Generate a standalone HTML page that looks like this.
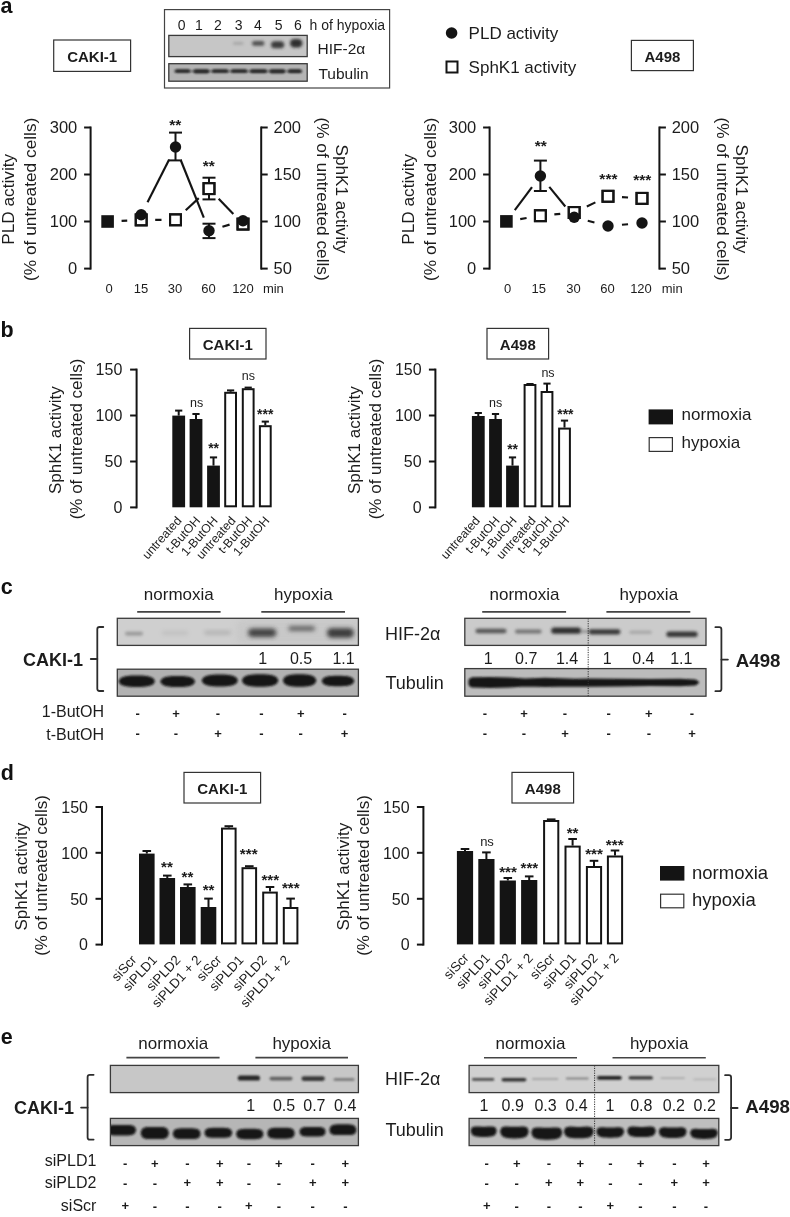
<!DOCTYPE html>
<html lang="en"><head><meta charset="utf-8"><title>Figure</title>
<style>
html,body{margin:0;padding:0;background:#fff;}
body{width:790px;height:1217px;overflow:hidden;}
svg{display:block;font-family:"Liberation Sans", sans-serif;}
svg text{font-family:"Liberation Sans", sans-serif;}
</style></head><body>
<svg width="790" height="1217" viewBox="0 0 790 1217">
<defs><filter id="b0_9" x="-20%" y="-150%" width="140%" height="400%"><feGaussianBlur stdDeviation="0.9"/></filter><filter id="b1" x="-20%" y="-150%" width="140%" height="400%"><feGaussianBlur stdDeviation="1"/></filter><filter id="b1_0" x="-20%" y="-150%" width="140%" height="400%"><feGaussianBlur stdDeviation="1.0"/></filter><filter id="b1_1" x="-20%" y="-150%" width="140%" height="400%"><feGaussianBlur stdDeviation="1.1"/></filter><filter id="b1_2" x="-20%" y="-150%" width="140%" height="400%"><feGaussianBlur stdDeviation="1.2"/></filter><filter id="b1_3" x="-20%" y="-150%" width="140%" height="400%"><feGaussianBlur stdDeviation="1.3"/></filter><filter id="b1_4" x="-20%" y="-150%" width="140%" height="400%"><feGaussianBlur stdDeviation="1.4"/></filter><filter id="b1_5" x="-20%" y="-150%" width="140%" height="400%"><feGaussianBlur stdDeviation="1.5"/></filter><filter id="b1_6" x="-20%" y="-150%" width="140%" height="400%"><feGaussianBlur stdDeviation="1.6"/></filter><filter id="b1_7" x="-20%" y="-150%" width="140%" height="400%"><feGaussianBlur stdDeviation="1.7"/></filter><filter id="b1_8" x="-20%" y="-150%" width="140%" height="400%"><feGaussianBlur stdDeviation="1.8"/></filter><filter id="b2" x="-20%" y="-150%" width="140%" height="400%"><feGaussianBlur stdDeviation="2"/></filter><filter id="b2_2" x="-20%" y="-150%" width="140%" height="400%"><feGaussianBlur stdDeviation="2.2"/></filter><filter id="b3" x="-20%" y="-150%" width="140%" height="400%"><feGaussianBlur stdDeviation="3"/></filter></defs>
<rect x="0" y="0" width="790" height="1217" fill="#ffffff"/>
<text x="0.50" y="12.80" font-size="21.5" text-anchor="start" font-weight="bold" fill="#111">a</text>
<rect x="53.70" y="40.00" width="76.90" height="31.40" fill="#fff" stroke="#333" stroke-width="1.2"/>
<text x="92.15" y="62.00" font-size="15" text-anchor="middle" font-weight="bold" fill="#1c1c1c">CAKI-1</text>
<rect x="631.40" y="40.40" width="62.00" height="30.20" fill="#fff" stroke="#333" stroke-width="1.2"/>
<text x="662.40" y="61.70" font-size="15" text-anchor="middle" font-weight="bold" fill="#1c1c1c">A498</text>
<rect x="164.50" y="9.60" width="225.10" height="78.40" fill="#fff" stroke="#444" stroke-width="1.2"/>
<text x="181.60" y="30.20" font-size="14" text-anchor="middle" fill="#1c1c1c">0</text>
<text x="199.00" y="30.20" font-size="14" text-anchor="middle" fill="#1c1c1c">1</text>
<text x="217.90" y="30.20" font-size="14" text-anchor="middle" fill="#1c1c1c">2</text>
<text x="238.60" y="30.20" font-size="14" text-anchor="middle" fill="#1c1c1c">3</text>
<text x="258.00" y="30.20" font-size="14" text-anchor="middle" fill="#1c1c1c">4</text>
<text x="278.60" y="30.20" font-size="14" text-anchor="middle" fill="#1c1c1c">5</text>
<text x="297.90" y="30.20" font-size="14" text-anchor="middle" fill="#1c1c1c">6</text>
<text x="309.60" y="30.20" font-size="14" text-anchor="start" fill="#1c1c1c">h of hypoxia</text>
<text x="317.60" y="53.60" font-size="15.5" text-anchor="start" fill="#1c1c1c">HIF-2α</text>
<text x="318.40" y="78.60" font-size="15.5" text-anchor="start" fill="#1c1c1c">Tubulin</text>
<clipPath id="cp1"><rect x="168.80" y="35.40" width="138.40" height="21.20"/></clipPath>
<rect x="168.80" y="35.40" width="138.40" height="21.20" fill="#c6c6c6"/>
<g clip-path="url(#cp1)">
<rect x="233.00" y="42.20" width="10.40" height="2.40" rx="1.20" ry="1.20" fill="#777" opacity="0.5" filter="url(#b1_4)"/>
<rect x="252.00" y="41.10" width="12.40" height="4.60" rx="2.30" ry="2.30" fill="#424242" opacity="0.9" filter="url(#b1_5)"/>
<rect x="271.00" y="41.30" width="13.20" height="7.00" rx="3.50" ry="3.50" fill="#363636" opacity="0.95" filter="url(#b1_6)"/>
<rect x="290.00" y="39.10" width="12.40" height="8.40" rx="4.20" ry="4.20" fill="#2c2c2c" opacity="0.97" filter="url(#b1_6)"/>
</g>
<rect x="168.80" y="35.40" width="138.40" height="21.20" fill="none" stroke="#3a3a3a" stroke-width="1.3"/>
<clipPath id="cp2"><rect x="168.80" y="63.70" width="138.40" height="17.50"/></clipPath>
<rect x="168.80" y="63.70" width="138.40" height="17.50" fill="#b4b4b4"/>
<g clip-path="url(#cp2)">
<rect x="175.00" y="69.40" width="15.20" height="3.40" rx="1.70" ry="1.70" fill="#1c1c1c" opacity="1" filter="url(#b0_9)"/>
<rect x="193.50" y="69.60" width="15.70" height="3.60" rx="1.80" ry="1.80" fill="#1c1c1c" opacity="1" filter="url(#b0_9)"/>
<rect x="212.00" y="69.60" width="16.20" height="3.20" rx="1.60" ry="1.60" fill="#1c1c1c" opacity="1" filter="url(#b0_9)"/>
<rect x="231.00" y="69.60" width="16.20" height="3.20" rx="1.60" ry="1.60" fill="#1c1c1c" opacity="1" filter="url(#b0_9)"/>
<rect x="250.00" y="69.50" width="17.00" height="3.60" rx="1.80" ry="1.80" fill="#1c1c1c" opacity="1" filter="url(#b0_9)"/>
<rect x="269.50" y="69.60" width="15.70" height="3.60" rx="1.80" ry="1.80" fill="#1c1c1c" opacity="1" filter="url(#b0_9)"/>
<rect x="288.00" y="69.40" width="13.60" height="3.60" rx="1.80" ry="1.80" fill="#1c1c1c" opacity="1" filter="url(#b0_9)"/>
<rect x="174.00" y="70.50" width="128.00" height="1.40" rx="0.70" ry="0.70" fill="#333" opacity="0.7" filter="url(#b0_9)"/>
</g>
<rect x="168.80" y="63.70" width="138.40" height="17.50" fill="none" stroke="#3a3a3a" stroke-width="1.3"/>
<circle cx="451.60" cy="33.00" r="5.80" fill="#141414"/>
<text x="468.60" y="38.80" font-size="17" text-anchor="start" fill="#1c1c1c">PLD activity</text>
<rect x="446.50" y="61.50" width="11.00" height="11.00" fill="#fff" stroke="#141414" stroke-width="2"/>
<text x="468.60" y="72.60" font-size="17" text-anchor="start" fill="#1c1c1c">SphK1 activity</text>
<line x1="90.60" y1="126.50" x2="90.60" y2="269.60" stroke="#141414" stroke-width="2.0" stroke-linecap="butt"/>
<line x1="90.60" y1="127.50" x2="84.10" y2="127.50" stroke="#141414" stroke-width="2.0" stroke-linecap="butt"/>
<line x1="90.60" y1="174.50" x2="84.10" y2="174.50" stroke="#141414" stroke-width="2.0" stroke-linecap="butt"/>
<line x1="90.60" y1="221.50" x2="84.10" y2="221.50" stroke="#141414" stroke-width="2.0" stroke-linecap="butt"/>
<line x1="90.60" y1="268.60" x2="84.10" y2="268.60" stroke="#141414" stroke-width="2.0" stroke-linecap="butt"/>
<line x1="261.20" y1="126.50" x2="261.20" y2="269.60" stroke="#141414" stroke-width="2.0" stroke-linecap="butt"/>
<line x1="261.20" y1="127.50" x2="267.70" y2="127.50" stroke="#141414" stroke-width="2.0" stroke-linecap="butt"/>
<line x1="261.20" y1="174.50" x2="267.70" y2="174.50" stroke="#141414" stroke-width="2.0" stroke-linecap="butt"/>
<line x1="261.20" y1="221.50" x2="267.70" y2="221.50" stroke="#141414" stroke-width="2.0" stroke-linecap="butt"/>
<line x1="261.20" y1="268.60" x2="267.70" y2="268.60" stroke="#141414" stroke-width="2.0" stroke-linecap="butt"/>
<text x="77.30" y="133.30" font-size="16.5" text-anchor="end" fill="#1c1c1c">300</text>
<text x="77.30" y="180.30" font-size="16.5" text-anchor="end" fill="#1c1c1c">200</text>
<text x="77.30" y="227.30" font-size="16.5" text-anchor="end" fill="#1c1c1c">100</text>
<text x="77.30" y="274.40" font-size="16.5" text-anchor="end" fill="#1c1c1c">0</text>
<text x="273.50" y="133.30" font-size="16.5" text-anchor="start" fill="#1c1c1c">200</text>
<text x="273.50" y="180.30" font-size="16.5" text-anchor="start" fill="#1c1c1c">150</text>
<text x="273.50" y="227.30" font-size="16.5" text-anchor="start" fill="#1c1c1c">100</text>
<text x="273.50" y="274.40" font-size="16.5" text-anchor="start" fill="#1c1c1c">50</text>
<text x="109.00" y="293.30" font-size="13" text-anchor="middle" fill="#1c1c1c">0</text>
<text x="141.00" y="293.30" font-size="13" text-anchor="middle" fill="#1c1c1c">15</text>
<text x="175.00" y="293.30" font-size="13" text-anchor="middle" fill="#1c1c1c">30</text>
<text x="208.60" y="293.30" font-size="13" text-anchor="middle" fill="#1c1c1c">60</text>
<text x="243.00" y="293.30" font-size="13" text-anchor="middle" fill="#1c1c1c">120</text>
<text x="262.90" y="293.30" font-size="13" text-anchor="start" fill="#1c1c1c">min</text>
<text x="14.40" y="199.30" font-size="17.2" text-anchor="middle" transform="rotate(-90 14.40 199.30)" fill="#1c1c1c">PLD activity</text>
<text x="36.00" y="199.30" font-size="17.3" text-anchor="middle" transform="rotate(-90 36.00 199.30)" fill="#1c1c1c">(% of untreated cells)</text>
<text x="336.00" y="198.90" font-size="17.2" text-anchor="middle" transform="rotate(90 336.00 198.90)" fill="#1c1c1c">SphK1 activity</text>
<text x="317.40" y="199.10" font-size="17.3" text-anchor="middle" transform="rotate(90 317.40 199.10)" fill="#1c1c1c">(% of untreated cells)</text>
<line x1="121.58" y1="220.83" x2="127.22" y2="220.57" stroke="#141414" stroke-width="2.15" stroke-linecap="butt"/>
<line x1="147.52" y1="202.31" x2="169.18" y2="159.49" stroke="#141414" stroke-width="2.15" stroke-linecap="butt"/>
<line x1="155.20" y1="219.86" x2="161.50" y2="219.84" stroke="#141414" stroke-width="2.15" stroke-linecap="butt"/>
<line x1="180.70" y1="160.00" x2="203.80" y2="217.70" stroke="#141414" stroke-width="2.15" stroke-linecap="butt"/>
<line x1="185.74" y1="210.26" x2="198.76" y2="198.14" stroke="#141414" stroke-width="2.15" stroke-linecap="butt"/>
<line x1="222.43" y1="226.75" x2="229.57" y2="224.65" stroke="#141414" stroke-width="2.15" stroke-linecap="butt"/>
<line x1="218.68" y1="198.71" x2="233.32" y2="213.99" stroke="#141414" stroke-width="2.15" stroke-linecap="butt"/>
<line x1="209.00" y1="177.70" x2="209.00" y2="199.40" stroke="#141414" stroke-width="2.0" stroke-linecap="butt"/>
<line x1="202.50" y1="177.70" x2="215.50" y2="177.70" stroke="#141414" stroke-width="2.0" stroke-linecap="butt"/>
<line x1="202.50" y1="199.40" x2="215.50" y2="199.40" stroke="#141414" stroke-width="2.0" stroke-linecap="butt"/>
<rect x="135.75" y="214.45" width="10.90" height="10.90" fill="#fff" stroke="#141414" stroke-width="2.1"/>
<rect x="170.05" y="214.35" width="10.90" height="10.90" fill="#fff" stroke="#141414" stroke-width="2.1"/>
<rect x="203.55" y="183.15" width="10.90" height="10.90" fill="#fff" stroke="#141414" stroke-width="2.1"/>
<rect x="237.55" y="218.65" width="10.90" height="10.90" fill="#fff" stroke="#141414" stroke-width="2.1"/>
<line x1="175.50" y1="132.60" x2="175.50" y2="160.40" stroke="#141414" stroke-width="2.0" stroke-linecap="butt"/>
<line x1="169.00" y1="132.60" x2="182.00" y2="132.60" stroke="#141414" stroke-width="2.0" stroke-linecap="butt"/>
<line x1="169.00" y1="160.40" x2="182.00" y2="160.40" stroke="#141414" stroke-width="2.0" stroke-linecap="butt"/>
<line x1="209.00" y1="223.70" x2="209.00" y2="238.10" stroke="#141414" stroke-width="2.0" stroke-linecap="butt"/>
<line x1="202.50" y1="223.70" x2="215.50" y2="223.70" stroke="#141414" stroke-width="2.0" stroke-linecap="butt"/>
<line x1="202.50" y1="238.10" x2="215.50" y2="238.10" stroke="#141414" stroke-width="2.0" stroke-linecap="butt"/>
<circle cx="141.20" cy="214.80" r="5.70" fill="#141414"/>
<circle cx="175.50" cy="147.00" r="5.70" fill="#141414"/>
<circle cx="209.00" cy="230.70" r="5.70" fill="#141414"/>
<circle cx="243.00" cy="220.70" r="5.70" fill="#141414"/>
<rect x="135.75" y="214.45" width="10.90" height="10.90" fill="none" stroke="#141414" stroke-width="2.1"/>
<rect x="170.05" y="214.35" width="10.90" height="10.90" fill="none" stroke="#141414" stroke-width="2.1"/>
<rect x="203.55" y="183.15" width="10.90" height="10.90" fill="none" stroke="#141414" stroke-width="2.1"/>
<rect x="237.55" y="218.65" width="10.90" height="10.90" fill="none" stroke="#141414" stroke-width="2.1"/>
<rect x="101.30" y="215.20" width="12.60" height="12.60" fill="#141414"/>
<text x="175.30" y="129.99" font-size="15.5" text-anchor="middle" font-weight="bold" fill="#1c1c1c">**</text>
<text x="208.80" y="171.49" font-size="15.5" text-anchor="middle" font-weight="bold" fill="#1c1c1c">**</text>
<line x1="489.60" y1="126.50" x2="489.60" y2="269.60" stroke="#141414" stroke-width="2.0" stroke-linecap="butt"/>
<line x1="489.60" y1="127.50" x2="483.10" y2="127.50" stroke="#141414" stroke-width="2.0" stroke-linecap="butt"/>
<line x1="489.60" y1="174.50" x2="483.10" y2="174.50" stroke="#141414" stroke-width="2.0" stroke-linecap="butt"/>
<line x1="489.60" y1="221.50" x2="483.10" y2="221.50" stroke="#141414" stroke-width="2.0" stroke-linecap="butt"/>
<line x1="489.60" y1="268.60" x2="483.10" y2="268.60" stroke="#141414" stroke-width="2.0" stroke-linecap="butt"/>
<line x1="659.40" y1="126.50" x2="659.40" y2="269.60" stroke="#141414" stroke-width="2.0" stroke-linecap="butt"/>
<line x1="659.40" y1="127.50" x2="665.90" y2="127.50" stroke="#141414" stroke-width="2.0" stroke-linecap="butt"/>
<line x1="659.40" y1="174.50" x2="665.90" y2="174.50" stroke="#141414" stroke-width="2.0" stroke-linecap="butt"/>
<line x1="659.40" y1="221.50" x2="665.90" y2="221.50" stroke="#141414" stroke-width="2.0" stroke-linecap="butt"/>
<line x1="659.40" y1="268.60" x2="665.90" y2="268.60" stroke="#141414" stroke-width="2.0" stroke-linecap="butt"/>
<text x="476.30" y="133.30" font-size="16.5" text-anchor="end" fill="#1c1c1c">300</text>
<text x="476.30" y="180.30" font-size="16.5" text-anchor="end" fill="#1c1c1c">200</text>
<text x="476.30" y="227.30" font-size="16.5" text-anchor="end" fill="#1c1c1c">100</text>
<text x="476.30" y="274.40" font-size="16.5" text-anchor="end" fill="#1c1c1c">0</text>
<text x="671.70" y="133.30" font-size="16.5" text-anchor="start" fill="#1c1c1c">200</text>
<text x="671.70" y="180.30" font-size="16.5" text-anchor="start" fill="#1c1c1c">150</text>
<text x="671.70" y="227.30" font-size="16.5" text-anchor="start" fill="#1c1c1c">100</text>
<text x="671.70" y="274.40" font-size="16.5" text-anchor="start" fill="#1c1c1c">50</text>
<text x="507.60" y="293.30" font-size="13" text-anchor="middle" fill="#1c1c1c">0</text>
<text x="538.80" y="293.30" font-size="13" text-anchor="middle" fill="#1c1c1c">15</text>
<text x="573.60" y="293.30" font-size="13" text-anchor="middle" fill="#1c1c1c">30</text>
<text x="607.40" y="293.30" font-size="13" text-anchor="middle" fill="#1c1c1c">60</text>
<text x="641.00" y="293.30" font-size="13" text-anchor="middle" fill="#1c1c1c">120</text>
<text x="661.70" y="293.30" font-size="13" text-anchor="start" fill="#1c1c1c">min</text>
<text x="414.40" y="199.30" font-size="17.2" text-anchor="middle" transform="rotate(-90 414.40 199.30)" fill="#1c1c1c">PLD activity</text>
<text x="436.00" y="199.30" font-size="17.3" text-anchor="middle" transform="rotate(-90 436.00 199.30)" fill="#1c1c1c">(% of untreated cells)</text>
<text x="735.90" y="198.90" font-size="17.2" text-anchor="middle" transform="rotate(90 735.90 198.90)" fill="#1c1c1c">SphK1 activity</text>
<text x="717.30" y="199.10" font-size="17.3" text-anchor="middle" transform="rotate(90 717.30 199.10)" fill="#1c1c1c">(% of untreated cells)</text>
<line x1="514.79" y1="210.19" x2="532.01" y2="187.21" stroke="#141414" stroke-width="2.15" stroke-linecap="butt"/>
<line x1="520.21" y1="219.09" x2="526.59" y2="218.01" stroke="#141414" stroke-width="2.15" stroke-linecap="butt"/>
<line x1="549.27" y1="186.83" x2="565.33" y2="206.47" stroke="#141414" stroke-width="2.15" stroke-linecap="butt"/>
<line x1="554.34" y1="214.38" x2="560.26" y2="213.82" stroke="#141414" stroke-width="2.15" stroke-linecap="butt"/>
<line x1="587.76" y1="220.79" x2="594.44" y2="222.51" stroke="#141414" stroke-width="2.15" stroke-linecap="butt"/>
<line x1="586.82" y1="206.45" x2="595.38" y2="202.35" stroke="#141414" stroke-width="2.15" stroke-linecap="butt"/>
<line x1="621.95" y1="224.77" x2="628.05" y2="224.23" stroke="#141414" stroke-width="2.15" stroke-linecap="butt"/>
<line x1="621.97" y1="197.16" x2="628.03" y2="197.54" stroke="#141414" stroke-width="2.15" stroke-linecap="butt"/>
<rect x="534.95" y="210.25" width="10.90" height="10.90" fill="#fff" stroke="#141414" stroke-width="2.1"/>
<rect x="568.75" y="207.05" width="10.90" height="10.90" fill="#fff" stroke="#141414" stroke-width="2.1"/>
<rect x="602.55" y="190.85" width="10.90" height="10.90" fill="#fff" stroke="#141414" stroke-width="2.1"/>
<rect x="636.55" y="192.95" width="10.90" height="10.90" fill="#fff" stroke="#141414" stroke-width="2.1"/>
<line x1="540.40" y1="160.60" x2="540.40" y2="191.00" stroke="#141414" stroke-width="2.0" stroke-linecap="butt"/>
<line x1="533.90" y1="160.60" x2="546.90" y2="160.60" stroke="#141414" stroke-width="2.0" stroke-linecap="butt"/>
<line x1="533.90" y1="191.00" x2="546.90" y2="191.00" stroke="#141414" stroke-width="2.0" stroke-linecap="butt"/>
<circle cx="540.40" cy="176.00" r="5.70" fill="#141414"/>
<circle cx="574.20" cy="217.30" r="5.70" fill="#141414"/>
<circle cx="608.00" cy="226.00" r="5.70" fill="#141414"/>
<circle cx="642.00" cy="223.00" r="5.70" fill="#141414"/>
<rect x="534.95" y="210.25" width="10.90" height="10.90" fill="none" stroke="#141414" stroke-width="2.1"/>
<rect x="568.75" y="207.05" width="10.90" height="10.90" fill="none" stroke="#141414" stroke-width="2.1"/>
<rect x="602.55" y="190.85" width="10.90" height="10.90" fill="none" stroke="#141414" stroke-width="2.1"/>
<rect x="636.55" y="192.95" width="10.90" height="10.90" fill="none" stroke="#141414" stroke-width="2.1"/>
<rect x="500.10" y="215.10" width="12.60" height="12.60" fill="#141414"/>
<text x="540.80" y="151.39" font-size="15.5" text-anchor="middle" font-weight="bold" fill="#1c1c1c">**</text>
<text x="608.40" y="183.69" font-size="15.5" text-anchor="middle" font-weight="bold" fill="#1c1c1c">***</text>
<text x="642.20" y="185.29" font-size="15.5" text-anchor="middle" font-weight="bold" fill="#1c1c1c">***</text>
<text x="0.50" y="336.60" font-size="21.5" text-anchor="start" font-weight="bold" fill="#111">b</text>
<rect x="189.60" y="328.40" width="76.40" height="30.60" fill="#fff" stroke="#333" stroke-width="1.2"/>
<text x="227.80" y="349.70" font-size="15" text-anchor="middle" font-weight="bold" fill="#1c1c1c">CAKI-1</text>
<rect x="487.00" y="328.40" width="61.60" height="30.60" fill="#fff" stroke="#333" stroke-width="1.2"/>
<text x="517.80" y="349.70" font-size="15" text-anchor="middle" font-weight="bold" fill="#1c1c1c">A498</text>
<line x1="136.60" y1="368.60" x2="136.60" y2="508.40" stroke="#141414" stroke-width="2.0" stroke-linecap="butt"/>
<line x1="136.60" y1="369.60" x2="130.10" y2="369.60" stroke="#141414" stroke-width="2.0" stroke-linecap="butt"/>
<line x1="136.60" y1="415.50" x2="130.10" y2="415.50" stroke="#141414" stroke-width="2.0" stroke-linecap="butt"/>
<line x1="136.60" y1="461.50" x2="130.10" y2="461.50" stroke="#141414" stroke-width="2.0" stroke-linecap="butt"/>
<line x1="136.60" y1="507.40" x2="130.10" y2="507.40" stroke="#141414" stroke-width="2.0" stroke-linecap="butt"/>
<text x="122.30" y="375.40" font-size="16" text-anchor="end" fill="#1c1c1c">150</text>
<text x="122.30" y="421.30" font-size="16" text-anchor="end" fill="#1c1c1c">100</text>
<text x="122.30" y="467.30" font-size="16" text-anchor="end" fill="#1c1c1c">50</text>
<text x="122.30" y="513.20" font-size="16" text-anchor="end" fill="#1c1c1c">0</text>
<text x="61.00" y="440.20" font-size="17" text-anchor="middle" transform="rotate(-90 61.00 440.20)" fill="#1c1c1c">SphK1 activity</text>
<text x="81.60" y="439.00" font-size="17" text-anchor="middle" transform="rotate(-90 81.60 439.00)" fill="#1c1c1c">(% of untreated cells)</text>
<line x1="178.70" y1="410.60" x2="178.70" y2="415.60" stroke="#141414" stroke-width="2" stroke-linecap="butt"/>
<line x1="175.10" y1="410.60" x2="182.30" y2="410.60" stroke="#141414" stroke-width="2" stroke-linecap="butt"/>
<rect x="172.30" y="415.60" width="12.80" height="91.70" fill="#141414"/>
<text x="182.20" y="521.00" font-size="12.3" text-anchor="end" transform="rotate(-48.5 182.20 521.00)" fill="#1c1c1c">untreated</text>
<line x1="196.00" y1="414.00" x2="196.00" y2="419.00" stroke="#141414" stroke-width="2" stroke-linecap="butt"/>
<line x1="192.40" y1="414.00" x2="199.60" y2="414.00" stroke="#141414" stroke-width="2" stroke-linecap="butt"/>
<rect x="189.60" y="419.00" width="12.80" height="88.30" fill="#141414"/>
<text x="200.80" y="521.00" font-size="12.3" text-anchor="end" transform="rotate(-48.5 200.80 521.00)" fill="#1c1c1c">t-ButOH</text>
<line x1="213.50" y1="457.40" x2="213.50" y2="465.60" stroke="#141414" stroke-width="2" stroke-linecap="butt"/>
<line x1="209.90" y1="457.40" x2="217.10" y2="457.40" stroke="#141414" stroke-width="2" stroke-linecap="butt"/>
<rect x="207.10" y="465.60" width="12.80" height="41.70" fill="#141414"/>
<text x="218.30" y="521.00" font-size="12.3" text-anchor="end" transform="rotate(-48.5 218.30 521.00)" fill="#1c1c1c">1-ButOH</text>
<line x1="230.60" y1="390.40" x2="230.60" y2="391.80" stroke="#141414" stroke-width="2" stroke-linecap="butt"/>
<line x1="227.00" y1="390.40" x2="234.20" y2="390.40" stroke="#141414" stroke-width="2" stroke-linecap="butt"/>
<rect x="225.20" y="392.80" width="10.80" height="113.50" fill="#fff" stroke="#141414" stroke-width="2"/>
<text x="236.20" y="521.00" font-size="12.3" text-anchor="end" transform="rotate(-48.5 236.20 521.00)" fill="#1c1c1c">untreated</text>
<line x1="248.20" y1="387.60" x2="248.20" y2="388.20" stroke="#141414" stroke-width="2" stroke-linecap="butt"/>
<line x1="244.60" y1="387.60" x2="251.80" y2="387.60" stroke="#141414" stroke-width="2" stroke-linecap="butt"/>
<rect x="242.80" y="389.20" width="10.80" height="117.10" fill="#fff" stroke="#141414" stroke-width="2"/>
<text x="253.00" y="521.00" font-size="12.3" text-anchor="end" transform="rotate(-48.5 253.00 521.00)" fill="#1c1c1c">t-ButOH</text>
<line x1="265.30" y1="421.60" x2="265.30" y2="425.20" stroke="#141414" stroke-width="2" stroke-linecap="butt"/>
<line x1="261.70" y1="421.60" x2="268.90" y2="421.60" stroke="#141414" stroke-width="2" stroke-linecap="butt"/>
<rect x="259.90" y="426.20" width="10.80" height="80.10" fill="#fff" stroke="#141414" stroke-width="2"/>
<text x="270.10" y="521.00" font-size="12.3" text-anchor="end" transform="rotate(-48.5 270.10 521.00)" fill="#1c1c1c">1-ButOH</text>
<text x="196.60" y="407.00" font-size="12.5" text-anchor="middle" fill="#1c1c1c">ns</text>
<text x="248.40" y="380.00" font-size="12.5" text-anchor="middle" fill="#1c1c1c">ns</text>
<text x="265.30" y="418.62" font-size="14" text-anchor="middle" font-weight="bold" fill="#1c1c1c">***</text>
<text x="213.60" y="453.42" font-size="14" text-anchor="middle" font-weight="bold" fill="#1c1c1c">**</text>
<line x1="435.40" y1="368.60" x2="435.40" y2="508.40" stroke="#141414" stroke-width="2.0" stroke-linecap="butt"/>
<line x1="435.40" y1="369.60" x2="428.90" y2="369.60" stroke="#141414" stroke-width="2.0" stroke-linecap="butt"/>
<line x1="435.40" y1="415.50" x2="428.90" y2="415.50" stroke="#141414" stroke-width="2.0" stroke-linecap="butt"/>
<line x1="435.40" y1="461.50" x2="428.90" y2="461.50" stroke="#141414" stroke-width="2.0" stroke-linecap="butt"/>
<line x1="435.40" y1="507.40" x2="428.90" y2="507.40" stroke="#141414" stroke-width="2.0" stroke-linecap="butt"/>
<text x="421.60" y="375.40" font-size="16" text-anchor="end" fill="#1c1c1c">150</text>
<text x="421.60" y="421.30" font-size="16" text-anchor="end" fill="#1c1c1c">100</text>
<text x="421.60" y="467.30" font-size="16" text-anchor="end" fill="#1c1c1c">50</text>
<text x="421.60" y="513.20" font-size="16" text-anchor="end" fill="#1c1c1c">0</text>
<text x="360.00" y="440.20" font-size="17" text-anchor="middle" transform="rotate(-90 360.00 440.20)" fill="#1c1c1c">SphK1 activity</text>
<text x="381.00" y="439.00" font-size="17" text-anchor="middle" transform="rotate(-90 381.00 439.00)" fill="#1c1c1c">(% of untreated cells)</text>
<line x1="478.30" y1="413.00" x2="478.30" y2="416.00" stroke="#141414" stroke-width="2" stroke-linecap="butt"/>
<line x1="474.70" y1="413.00" x2="481.90" y2="413.00" stroke="#141414" stroke-width="2" stroke-linecap="butt"/>
<rect x="471.90" y="416.00" width="12.80" height="91.30" fill="#141414"/>
<text x="480.60" y="521.00" font-size="12.3" text-anchor="end" transform="rotate(-48.5 480.60 521.00)" fill="#1c1c1c">untreated</text>
<line x1="495.50" y1="414.00" x2="495.50" y2="419.00" stroke="#141414" stroke-width="2" stroke-linecap="butt"/>
<line x1="491.90" y1="414.00" x2="499.10" y2="414.00" stroke="#141414" stroke-width="2" stroke-linecap="butt"/>
<rect x="489.10" y="419.00" width="12.80" height="88.30" fill="#141414"/>
<text x="500.30" y="521.00" font-size="12.3" text-anchor="end" transform="rotate(-48.5 500.30 521.00)" fill="#1c1c1c">t-ButOH</text>
<line x1="512.50" y1="457.40" x2="512.50" y2="465.60" stroke="#141414" stroke-width="2" stroke-linecap="butt"/>
<line x1="508.90" y1="457.40" x2="516.10" y2="457.40" stroke="#141414" stroke-width="2" stroke-linecap="butt"/>
<rect x="506.10" y="465.60" width="12.80" height="41.70" fill="#141414"/>
<text x="517.30" y="521.00" font-size="12.3" text-anchor="end" transform="rotate(-48.5 517.30 521.00)" fill="#1c1c1c">1-ButOH</text>
<line x1="526.40" y1="384.00" x2="533.60" y2="384.00" stroke="#141414" stroke-width="2" stroke-linecap="butt"/>
<rect x="524.60" y="385.00" width="10.80" height="121.30" fill="#fff" stroke="#141414" stroke-width="2"/>
<text x="536.30" y="521.00" font-size="12.3" text-anchor="end" transform="rotate(-48.5 536.30 521.00)" fill="#1c1c1c">untreated</text>
<line x1="547.00" y1="383.60" x2="547.00" y2="391.00" stroke="#141414" stroke-width="2" stroke-linecap="butt"/>
<line x1="543.40" y1="383.60" x2="550.60" y2="383.60" stroke="#141414" stroke-width="2" stroke-linecap="butt"/>
<rect x="541.60" y="392.00" width="10.80" height="114.30" fill="#fff" stroke="#141414" stroke-width="2"/>
<text x="552.30" y="521.00" font-size="12.3" text-anchor="end" transform="rotate(-48.5 552.30 521.00)" fill="#1c1c1c">t-ButOH</text>
<line x1="564.50" y1="420.60" x2="564.50" y2="427.60" stroke="#141414" stroke-width="2" stroke-linecap="butt"/>
<line x1="560.90" y1="420.60" x2="568.10" y2="420.60" stroke="#141414" stroke-width="2" stroke-linecap="butt"/>
<rect x="559.10" y="428.60" width="10.80" height="77.70" fill="#fff" stroke="#141414" stroke-width="2"/>
<text x="569.80" y="521.00" font-size="12.3" text-anchor="end" transform="rotate(-48.5 569.80 521.00)" fill="#1c1c1c">1-ButOH</text>
<text x="495.60" y="406.60" font-size="12.5" text-anchor="middle" fill="#1c1c1c">ns</text>
<text x="548.00" y="376.60" font-size="12.5" text-anchor="middle" fill="#1c1c1c">ns</text>
<text x="565.40" y="418.62" font-size="14" text-anchor="middle" font-weight="bold" fill="#1c1c1c">***</text>
<text x="512.60" y="453.92" font-size="14" text-anchor="middle" font-weight="bold" fill="#1c1c1c">**</text>
<rect x="648.60" y="409.40" width="24.40" height="15.00" fill="#141414"/>
<text x="681.60" y="420.40" font-size="17" text-anchor="start" fill="#1c1c1c">normoxia</text>
<rect x="649.20" y="437.60" width="23.20" height="13.80" fill="#fff" stroke="#333" stroke-width="1.2"/>
<text x="681.60" y="448.00" font-size="17" text-anchor="start" fill="#1c1c1c">hypoxia</text>
<text x="0.80" y="593.60" font-size="21.5" text-anchor="start" font-weight="bold" fill="#111">c</text>
<text x="23.00" y="666.40" font-size="18" text-anchor="start" font-weight="bold" fill="#1c1c1c">CAKI-1</text>
<path d="M103.30,627.00 L99.50,627.00 Q97.30,627.00 97.30,629.20 L97.30,688.80 Q97.30,691.00 99.50,691.00 L103.30,691.00" fill="none" stroke="#2c2c2c" stroke-width="1.8" stroke-linecap="round"/>
<line x1="97.30" y1="659.00" x2="90.80" y2="659.00" stroke="#2c2c2c" stroke-width="1.8" stroke-linecap="round"/>
<text x="178.80" y="600.00" font-size="17" text-anchor="middle" fill="#1c1c1c">normoxia</text>
<text x="303.40" y="600.00" font-size="17" text-anchor="middle" fill="#1c1c1c">hypoxia</text>
<line x1="137.20" y1="611.80" x2="220.60" y2="611.80" stroke="#444" stroke-width="1.8" stroke-linecap="butt"/>
<line x1="261.30" y1="611.80" x2="345.00" y2="611.80" stroke="#444" stroke-width="1.8" stroke-linecap="butt"/>
<clipPath id="cp3"><rect x="117.30" y="618.30" width="241.10" height="27.10"/></clipPath>
<rect x="117.30" y="618.30" width="241.10" height="27.10" fill="#cfcfcf"/>
<g clip-path="url(#cp3)">
<rect x="236.00" y="620.00" width="126.00" height="24.00" rx="6.00" ry="12.00" fill="#c6c6c6" opacity="0.8" filter="url(#b3)"/>
<rect x="125.00" y="631.80" width="18.00" height="3.60" rx="1.80" ry="1.80" fill="#6a6a6a" opacity="0.55" filter="url(#b1_6)"/>
<rect x="162.00" y="631.70" width="26.00" height="2.60" rx="1.30" ry="1.30" fill="#8a8a8a" opacity="0.35" filter="url(#b2)"/>
<rect x="204.00" y="630.90" width="27.00" height="3.40" rx="1.70" ry="1.70" fill="#808080" opacity="0.45" filter="url(#b2)"/>
<rect x="248.00" y="628.50" width="28.40" height="8.60" rx="4.30" ry="4.30" fill="#3a3a3a" opacity="0.93" filter="url(#b2_2)"/>
<rect x="288.40" y="626.10" width="26.60" height="5.00" rx="2.50" ry="2.50" fill="#545454" opacity="0.85" filter="url(#b2)"/>
<rect x="327.00" y="628.20" width="26.80" height="9.60" rx="4.80" ry="4.80" fill="#343434" opacity="0.95" filter="url(#b2_2)"/>
</g>
<rect x="117.30" y="618.30" width="241.10" height="27.10" fill="none" stroke="#3a3a3a" stroke-width="1.3"/>
<text x="262.80" y="664.00" font-size="16" text-anchor="middle" fill="#1c1c1c">1</text>
<text x="301.00" y="664.00" font-size="16" text-anchor="middle" fill="#1c1c1c">0.5</text>
<text x="343.60" y="664.00" font-size="16" text-anchor="middle" fill="#1c1c1c">1.1</text>
<clipPath id="cp4"><rect x="117.30" y="669.20" width="241.10" height="27.00"/></clipPath>
<rect x="117.30" y="669.20" width="241.10" height="27.00" fill="#b2b2b2"/>
<g clip-path="url(#cp4)">
<polygon points="118.6,681.2 120.1,678.5 121.6,677.5 123.1,676.9 124.7,676.4 126.2,676.1 127.7,675.9 129.2,675.7 130.7,675.6 132.2,675.5 133.8,675.5 135.3,675.5 136.8,675.5 138.3,675.5 139.8,675.5 141.3,675.5 142.9,675.6 144.4,675.7 145.9,675.9 147.4,676.1 148.9,676.4 150.4,676.9 152.0,677.5 153.5,678.5 155.0,681.2 155.0,681.2 153.5,683.9 152.0,684.9 150.4,685.5 148.9,686.0 147.4,686.3 145.9,686.5 144.4,686.7 142.9,686.8 141.3,686.9 139.8,686.9 138.3,686.9 136.8,686.9 135.3,686.9 133.8,686.9 132.2,686.9 130.7,686.8 129.2,686.7 127.7,686.5 126.2,686.3 124.7,686.0 123.1,685.5 121.6,684.9 120.1,683.9 118.6,681.2" fill="#121212" opacity="1" filter="url(#b1)"/>
<polygon points="160.2,681.5 161.7,678.9 163.1,677.9 164.6,677.3 166.0,676.9 167.5,676.6 168.9,676.4 170.4,676.2 171.9,676.1 173.3,676.0 174.8,676.0 176.2,676.0 177.7,676.0 179.2,676.0 180.6,676.0 182.1,676.0 183.5,676.1 185.0,676.2 186.4,676.4 187.9,676.6 189.4,676.9 190.8,677.3 192.3,677.9 193.7,678.9 195.2,681.5 195.2,681.5 193.7,684.1 192.3,685.1 190.8,685.7 189.4,686.1 187.9,686.4 186.4,686.6 185.0,686.8 183.5,686.9 182.1,687.0 180.6,687.0 179.2,687.0 177.7,687.0 176.2,687.0 174.8,687.0 173.3,687.0 171.9,686.9 170.4,686.8 168.9,686.6 167.5,686.4 166.0,686.1 164.6,685.7 163.1,685.1 161.7,684.1 160.2,681.5" fill="#121212" opacity="1" filter="url(#b1)"/>
<polygon points="201.6,680.5 203.1,677.7 204.6,676.7 206.2,676.0 207.7,675.6 209.2,675.2 210.7,675.0 212.2,674.8 213.7,674.7 215.2,674.6 216.8,674.6 218.3,674.6 219.8,674.6 221.3,674.6 222.8,674.6 224.3,674.6 225.9,674.7 227.4,674.8 228.9,675.0 230.4,675.2 231.9,675.6 233.4,676.0 235.0,676.7 236.5,677.7 238.0,680.5 238.0,680.5 236.5,683.3 235.0,684.3 233.4,685.0 231.9,685.4 230.4,685.8 228.9,686.0 227.4,686.2 225.9,686.3 224.3,686.4 222.8,686.4 221.3,686.4 219.8,686.4 218.3,686.4 216.8,686.4 215.2,686.4 213.7,686.3 212.2,686.2 210.7,686.0 209.2,685.8 207.7,685.4 206.2,685.0 204.6,684.3 203.1,683.3 201.6,680.5" fill="#121212" opacity="1" filter="url(#b1)"/>
<polygon points="241.8,680.5 243.3,677.5 244.9,676.5 246.4,675.8 247.9,675.3 249.4,674.9 250.9,674.7 252.5,674.5 254.0,674.4 255.5,674.3 257.1,674.3 258.6,674.3 260.1,674.3 261.6,674.3 263.1,674.3 264.7,674.3 266.2,674.4 267.7,674.5 269.2,674.7 270.8,674.9 272.3,675.3 273.8,675.8 275.3,676.5 276.9,677.5 278.4,680.5 278.4,680.5 276.9,683.5 275.3,684.5 273.8,685.2 272.3,685.7 270.8,686.1 269.2,686.3 267.7,686.5 266.2,686.6 264.7,686.7 263.1,686.7 261.6,686.7 260.1,686.7 258.6,686.7 257.1,686.7 255.5,686.7 254.0,686.6 252.5,686.5 250.9,686.3 249.4,686.1 247.9,685.7 246.4,685.2 244.9,684.5 243.3,683.5 241.8,680.5" fill="#121212" opacity="1" filter="url(#b1)"/>
<polygon points="282.8,680.5 284.2,677.5 285.6,676.5 287.0,675.8 288.4,675.3 289.8,674.9 291.2,674.7 292.6,674.5 294.0,674.4 295.4,674.3 296.8,674.3 298.2,674.3 299.6,674.3 301.0,674.3 302.4,674.3 303.8,674.3 305.2,674.4 306.6,674.5 308.0,674.7 309.4,674.9 310.8,675.3 312.2,675.8 313.6,676.5 315.0,677.5 316.4,680.5 316.4,680.5 315.0,683.5 313.6,684.5 312.2,685.2 310.8,685.7 309.4,686.1 308.0,686.3 306.6,686.5 305.2,686.6 303.8,686.7 302.4,686.7 301.0,686.7 299.6,686.7 298.2,686.7 296.8,686.7 295.4,686.7 294.0,686.6 292.6,686.5 291.2,686.3 289.8,686.1 288.4,685.7 287.0,685.2 285.6,684.5 284.2,683.5 282.8,680.5" fill="#121212" opacity="1" filter="url(#b1)"/>
<polygon points="321.6,681.0 323.0,678.5 324.3,677.6 325.7,677.0 327.1,676.6 328.4,676.3 329.8,676.1 331.2,676.0 332.5,675.9 333.9,675.8 335.3,675.8 336.6,675.8 338.0,675.8 339.4,675.8 340.7,675.8 342.1,675.8 343.5,675.9 344.8,676.0 346.2,676.1 347.6,676.3 348.9,676.6 350.3,677.0 351.7,677.6 353.0,678.5 354.4,681.0 354.4,681.0 353.0,683.5 351.7,684.4 350.3,685.0 348.9,685.4 347.6,685.7 346.2,685.9 344.8,686.0 343.5,686.1 342.1,686.2 340.7,686.2 339.4,686.2 338.0,686.2 336.6,686.2 335.3,686.2 333.9,686.2 332.5,686.1 331.2,686.0 329.8,685.9 328.4,685.7 327.1,685.4 325.7,685.0 324.3,684.4 323.0,683.5 321.6,681.0" fill="#121212" opacity="1" filter="url(#b1)"/>
</g>
<rect x="117.30" y="669.20" width="241.10" height="27.00" fill="none" stroke="#3a3a3a" stroke-width="1.3"/>
<text x="385.00" y="639.60" font-size="18" text-anchor="start" fill="#1c1c1c">HIF-2α</text>
<text x="385.40" y="689.40" font-size="18" text-anchor="start" fill="#1c1c1c">Tubulin</text>
<text x="104.00" y="717.00" font-size="16" text-anchor="end" fill="#1c1c1c">1-ButOH</text>
<text x="104.00" y="740.00" font-size="16" text-anchor="end" fill="#1c1c1c">t-ButOH</text>
<text x="137.70" y="718.20" font-size="13" text-anchor="middle" font-weight="bold" fill="#1c1c1c">-</text>
<text x="176.00" y="717.70" font-size="13" text-anchor="middle" font-weight="bold" fill="#1c1c1c">+</text>
<text x="218.00" y="718.20" font-size="13" text-anchor="middle" font-weight="bold" fill="#1c1c1c">-</text>
<text x="261.40" y="718.20" font-size="13" text-anchor="middle" font-weight="bold" fill="#1c1c1c">-</text>
<text x="300.70" y="717.70" font-size="13" text-anchor="middle" font-weight="bold" fill="#1c1c1c">+</text>
<text x="344.60" y="718.20" font-size="13" text-anchor="middle" font-weight="bold" fill="#1c1c1c">-</text>
<text x="137.70" y="738.20" font-size="13" text-anchor="middle" font-weight="bold" fill="#1c1c1c">-</text>
<text x="176.00" y="738.20" font-size="13" text-anchor="middle" font-weight="bold" fill="#1c1c1c">-</text>
<text x="218.00" y="737.70" font-size="13" text-anchor="middle" font-weight="bold" fill="#1c1c1c">+</text>
<text x="261.40" y="738.20" font-size="13" text-anchor="middle" font-weight="bold" fill="#1c1c1c">-</text>
<text x="300.70" y="738.20" font-size="13" text-anchor="middle" font-weight="bold" fill="#1c1c1c">-</text>
<text x="344.60" y="737.70" font-size="13" text-anchor="middle" font-weight="bold" fill="#1c1c1c">+</text>
<text x="524.50" y="600.00" font-size="17" text-anchor="middle" fill="#1c1c1c">normoxia</text>
<text x="648.80" y="600.00" font-size="17" text-anchor="middle" fill="#1c1c1c">hypoxia</text>
<line x1="482.20" y1="611.80" x2="566.10" y2="611.80" stroke="#444" stroke-width="1.8" stroke-linecap="butt"/>
<line x1="606.40" y1="611.80" x2="690.30" y2="611.80" stroke="#444" stroke-width="1.8" stroke-linecap="butt"/>
<clipPath id="cp5"><rect x="464.80" y="618.30" width="241.20" height="27.10"/></clipPath>
<rect x="464.80" y="618.30" width="241.20" height="27.10" fill="#cbcbcb"/>
<g clip-path="url(#cp5)">
<rect x="475.50" y="628.70" width="31.00" height="4.60" rx="2.30" ry="2.30" fill="#484848" opacity="0.9" filter="url(#b1_7)"/>
<rect x="515.00" y="629.40" width="26.60" height="4.00" rx="2.00" ry="2.00" fill="#5c5c5c" opacity="0.8" filter="url(#b1_7)"/>
<rect x="551.20" y="627.40" width="29.80" height="6.40" rx="3.20" ry="3.20" fill="#2c2c2c" opacity="0.97" filter="url(#b1_7)"/>
<rect x="580.00" y="630.15" width="12.00" height="2.50" rx="1.25" ry="1.25" fill="#666" opacity="0.6" filter="url(#b1_7)"/>
<rect x="589.00" y="629.20" width="31.40" height="5.20" rx="2.60" ry="2.60" fill="#333" opacity="0.95" filter="url(#b1_7)"/>
<rect x="629.40" y="630.70" width="22.40" height="3.00" rx="1.50" ry="1.50" fill="#8a8a8a" opacity="0.6" filter="url(#b1_7)"/>
<rect x="666.40" y="631.50" width="31.20" height="5.60" rx="2.80" ry="2.80" fill="#333" opacity="0.97" filter="url(#b1_7)"/>
</g>
<rect x="464.80" y="618.30" width="241.20" height="27.10" fill="none" stroke="#3a3a3a" stroke-width="1.3"/>
<text x="488.30" y="664.00" font-size="16" text-anchor="middle" fill="#1c1c1c">1</text>
<text x="526.20" y="664.00" font-size="16" text-anchor="middle" fill="#1c1c1c">0.7</text>
<text x="567.00" y="664.00" font-size="16" text-anchor="middle" fill="#1c1c1c">1.4</text>
<text x="607.20" y="664.00" font-size="16" text-anchor="middle" fill="#1c1c1c">1</text>
<text x="643.40" y="664.00" font-size="16" text-anchor="middle" fill="#1c1c1c">0.4</text>
<text x="681.30" y="664.00" font-size="16" text-anchor="middle" fill="#1c1c1c">1.1</text>
<clipPath id="cp6"><rect x="464.80" y="668.60" width="241.20" height="27.60"/></clipPath>
<rect x="464.80" y="668.60" width="241.20" height="27.60" fill="#bcbcbc"/>
<g clip-path="url(#cp6)">
<polygon points="469.5,680.0 472.0,678.2 490.0,677.9 510.0,678.6 525.0,679.6 545.0,678.8 560.0,679.3 575.0,679.8 590.0,679.4 620.0,679.8 650.0,680.0 680.0,679.8 695.0,680.4 698.0,682.4 695.0,684.6 680.0,685.2 650.0,685.0 620.0,685.4 590.0,685.8 575.0,685.6 560.0,685.8 545.0,686.0 525.0,685.6 510.0,686.4 490.0,686.9 472.0,686.6 469.5,684.6" fill="#141414" stroke="#141414" stroke-width="2" stroke-linejoin="round" filter="url(#b1)"/>
</g>
<rect x="464.80" y="668.60" width="241.20" height="27.60" fill="none" stroke="#3a3a3a" stroke-width="1.3"/>
<line x1="588.20" y1="618.30" x2="588.20" y2="696.20" stroke="#333" stroke-width="1" stroke-linecap="butt" stroke-dasharray="1.2 1.2"/>
<path d="M715.40,627.20 L719.20,627.20 Q721.40,627.20 721.40,629.40 L721.40,689.00 Q721.40,691.20 719.20,691.20 L715.40,691.20" fill="none" stroke="#2c2c2c" stroke-width="1.8" stroke-linecap="round"/>
<line x1="721.40" y1="659.60" x2="727.90" y2="659.60" stroke="#2c2c2c" stroke-width="1.8" stroke-linecap="round"/>
<text x="735.80" y="666.90" font-size="18.7" text-anchor="start" font-weight="bold" fill="#1c1c1c">A498</text>
<text x="485.00" y="718.20" font-size="13" text-anchor="middle" font-weight="bold" fill="#1c1c1c">-</text>
<text x="524.00" y="717.70" font-size="13" text-anchor="middle" font-weight="bold" fill="#1c1c1c">+</text>
<text x="565.00" y="718.20" font-size="13" text-anchor="middle" font-weight="bold" fill="#1c1c1c">-</text>
<text x="608.60" y="718.20" font-size="13" text-anchor="middle" font-weight="bold" fill="#1c1c1c">-</text>
<text x="648.80" y="717.70" font-size="13" text-anchor="middle" font-weight="bold" fill="#1c1c1c">+</text>
<text x="692.00" y="718.20" font-size="13" text-anchor="middle" font-weight="bold" fill="#1c1c1c">-</text>
<text x="485.00" y="738.20" font-size="13" text-anchor="middle" font-weight="bold" fill="#1c1c1c">-</text>
<text x="524.00" y="738.20" font-size="13" text-anchor="middle" font-weight="bold" fill="#1c1c1c">-</text>
<text x="565.00" y="737.70" font-size="13" text-anchor="middle" font-weight="bold" fill="#1c1c1c">+</text>
<text x="608.60" y="738.20" font-size="13" text-anchor="middle" font-weight="bold" fill="#1c1c1c">-</text>
<text x="648.80" y="738.20" font-size="13" text-anchor="middle" font-weight="bold" fill="#1c1c1c">-</text>
<text x="692.00" y="737.70" font-size="13" text-anchor="middle" font-weight="bold" fill="#1c1c1c">+</text>
<text x="0.80" y="780.00" font-size="21.5" text-anchor="start" font-weight="bold" fill="#111">d</text>
<rect x="184.00" y="772.40" width="76.60" height="30.60" fill="#fff" stroke="#333" stroke-width="1.2"/>
<text x="222.30" y="793.90" font-size="15" text-anchor="middle" font-weight="bold" fill="#1c1c1c">CAKI-1</text>
<rect x="512.00" y="772.40" width="61.60" height="30.60" fill="#fff" stroke="#333" stroke-width="1.2"/>
<text x="542.80" y="793.70" font-size="15" text-anchor="middle" font-weight="bold" fill="#1c1c1c">A498</text>
<line x1="102.00" y1="806.00" x2="102.00" y2="945.60" stroke="#141414" stroke-width="2.0" stroke-linecap="butt"/>
<line x1="102.00" y1="807.00" x2="95.50" y2="807.00" stroke="#141414" stroke-width="2.0" stroke-linecap="butt"/>
<line x1="102.00" y1="852.80" x2="95.50" y2="852.80" stroke="#141414" stroke-width="2.0" stroke-linecap="butt"/>
<line x1="102.00" y1="898.80" x2="95.50" y2="898.80" stroke="#141414" stroke-width="2.0" stroke-linecap="butt"/>
<line x1="102.00" y1="944.60" x2="95.50" y2="944.60" stroke="#141414" stroke-width="2.0" stroke-linecap="butt"/>
<text x="88.00" y="812.80" font-size="16" text-anchor="end" fill="#1c1c1c">150</text>
<text x="88.00" y="858.60" font-size="16" text-anchor="end" fill="#1c1c1c">100</text>
<text x="88.00" y="904.60" font-size="16" text-anchor="end" fill="#1c1c1c">50</text>
<text x="88.00" y="950.40" font-size="16" text-anchor="end" fill="#1c1c1c">0</text>
<text x="27.20" y="876.70" font-size="17" text-anchor="middle" transform="rotate(-90 27.20 876.70)" fill="#1c1c1c">SphK1 activity</text>
<text x="47.40" y="875.50" font-size="17" text-anchor="middle" transform="rotate(-90 47.40 875.50)" fill="#1c1c1c">(% of untreated cells)</text>
<line x1="146.80" y1="851.00" x2="146.80" y2="853.60" stroke="#141414" stroke-width="2" stroke-linecap="butt"/>
<line x1="142.50" y1="851.00" x2="151.10" y2="851.00" stroke="#141414" stroke-width="2" stroke-linecap="butt"/>
<rect x="139.00" y="853.60" width="15.60" height="90.80" fill="#141414"/>
<text x="137.30" y="960.50" font-size="13.3" text-anchor="end" transform="rotate(-47 137.30 960.50)" fill="#1c1c1c">siScr</text>
<line x1="167.30" y1="875.60" x2="167.30" y2="878.00" stroke="#141414" stroke-width="2" stroke-linecap="butt"/>
<line x1="163.00" y1="875.60" x2="171.60" y2="875.60" stroke="#141414" stroke-width="2" stroke-linecap="butt"/>
<rect x="159.50" y="878.00" width="15.60" height="66.40" fill="#141414"/>
<text x="157.80" y="960.50" font-size="13.3" text-anchor="end" transform="rotate(-47 157.80 960.50)" fill="#1c1c1c">siPLD1</text>
<line x1="187.80" y1="884.40" x2="187.80" y2="887.00" stroke="#141414" stroke-width="2" stroke-linecap="butt"/>
<line x1="183.50" y1="884.40" x2="192.10" y2="884.40" stroke="#141414" stroke-width="2" stroke-linecap="butt"/>
<rect x="180.00" y="887.00" width="15.60" height="57.40" fill="#141414"/>
<text x="181.30" y="960.50" font-size="13.3" text-anchor="end" transform="rotate(-47 181.30 960.50)" fill="#1c1c1c">siPLD2</text>
<line x1="208.50" y1="898.60" x2="208.50" y2="907.00" stroke="#141414" stroke-width="2" stroke-linecap="butt"/>
<line x1="204.20" y1="898.60" x2="212.80" y2="898.60" stroke="#141414" stroke-width="2" stroke-linecap="butt"/>
<rect x="200.70" y="907.00" width="15.60" height="37.40" fill="#141414"/>
<text x="202.00" y="960.50" font-size="13.3" text-anchor="end" transform="rotate(-47 202.00 960.50)" fill="#1c1c1c">siPLD1 + 2</text>
<line x1="228.80" y1="826.20" x2="228.80" y2="827.60" stroke="#141414" stroke-width="2" stroke-linecap="butt"/>
<line x1="224.50" y1="826.20" x2="233.10" y2="826.20" stroke="#141414" stroke-width="2" stroke-linecap="butt"/>
<rect x="222.00" y="828.60" width="13.60" height="114.80" fill="#fff" stroke="#141414" stroke-width="2"/>
<text x="222.30" y="960.50" font-size="13.3" text-anchor="end" transform="rotate(-47 222.30 960.50)" fill="#1c1c1c">siScr</text>
<line x1="249.30" y1="866.20" x2="249.30" y2="867.20" stroke="#141414" stroke-width="2" stroke-linecap="butt"/>
<line x1="245.00" y1="866.20" x2="253.60" y2="866.20" stroke="#141414" stroke-width="2" stroke-linecap="butt"/>
<rect x="242.50" y="868.20" width="13.60" height="75.20" fill="#fff" stroke="#141414" stroke-width="2"/>
<text x="244.30" y="960.50" font-size="13.3" text-anchor="end" transform="rotate(-47 244.30 960.50)" fill="#1c1c1c">siPLD1</text>
<line x1="270.00" y1="887.00" x2="270.00" y2="891.60" stroke="#141414" stroke-width="2" stroke-linecap="butt"/>
<line x1="265.70" y1="887.00" x2="274.30" y2="887.00" stroke="#141414" stroke-width="2" stroke-linecap="butt"/>
<rect x="263.20" y="892.60" width="13.60" height="50.80" fill="#fff" stroke="#141414" stroke-width="2"/>
<text x="267.50" y="960.50" font-size="13.3" text-anchor="end" transform="rotate(-47 267.50 960.50)" fill="#1c1c1c">siPLD2</text>
<line x1="290.60" y1="898.60" x2="290.60" y2="907.00" stroke="#141414" stroke-width="2" stroke-linecap="butt"/>
<line x1="286.30" y1="898.60" x2="294.90" y2="898.60" stroke="#141414" stroke-width="2" stroke-linecap="butt"/>
<rect x="283.80" y="908.00" width="13.60" height="35.40" fill="#fff" stroke="#141414" stroke-width="2"/>
<text x="290.60" y="960.50" font-size="13.3" text-anchor="end" transform="rotate(-47 290.60 960.50)" fill="#1c1c1c">siPLD1 + 2</text>
<text x="167.00" y="872.02" font-size="15.2" text-anchor="middle" font-weight="bold" fill="#1c1c1c">**</text>
<text x="187.40" y="881.52" font-size="15.2" text-anchor="middle" font-weight="bold" fill="#1c1c1c">**</text>
<text x="208.60" y="894.52" font-size="15.2" text-anchor="middle" font-weight="bold" fill="#1c1c1c">**</text>
<text x="248.70" y="859.42" font-size="15.2" text-anchor="middle" font-weight="bold" fill="#1c1c1c">***</text>
<text x="270.30" y="884.62" font-size="15.2" text-anchor="middle" font-weight="bold" fill="#1c1c1c">***</text>
<text x="290.80" y="892.72" font-size="15.2" text-anchor="middle" font-weight="bold" fill="#1c1c1c">***</text>
<line x1="423.40" y1="806.00" x2="423.40" y2="945.60" stroke="#141414" stroke-width="2.0" stroke-linecap="butt"/>
<line x1="423.40" y1="807.00" x2="416.90" y2="807.00" stroke="#141414" stroke-width="2.0" stroke-linecap="butt"/>
<line x1="423.40" y1="852.80" x2="416.90" y2="852.80" stroke="#141414" stroke-width="2.0" stroke-linecap="butt"/>
<line x1="423.40" y1="898.80" x2="416.90" y2="898.80" stroke="#141414" stroke-width="2.0" stroke-linecap="butt"/>
<line x1="423.40" y1="944.60" x2="416.90" y2="944.60" stroke="#141414" stroke-width="2.0" stroke-linecap="butt"/>
<text x="409.60" y="812.80" font-size="16" text-anchor="end" fill="#1c1c1c">150</text>
<text x="409.60" y="858.60" font-size="16" text-anchor="end" fill="#1c1c1c">100</text>
<text x="409.60" y="904.60" font-size="16" text-anchor="end" fill="#1c1c1c">50</text>
<text x="409.60" y="950.40" font-size="16" text-anchor="end" fill="#1c1c1c">0</text>
<text x="349.00" y="876.70" font-size="17" text-anchor="middle" transform="rotate(-90 349.00 876.70)" fill="#1c1c1c">SphK1 activity</text>
<text x="369.00" y="875.50" font-size="17" text-anchor="middle" transform="rotate(-90 369.00 875.50)" fill="#1c1c1c">(% of untreated cells)</text>
<line x1="465.00" y1="849.00" x2="465.00" y2="851.00" stroke="#141414" stroke-width="2" stroke-linecap="butt"/>
<line x1="460.70" y1="849.00" x2="469.30" y2="849.00" stroke="#141414" stroke-width="2" stroke-linecap="butt"/>
<rect x="456.90" y="851.00" width="16.20" height="93.40" fill="#141414"/>
<text x="469.50" y="958.50" font-size="13.3" text-anchor="end" transform="rotate(-47 469.50 958.50)" fill="#1c1c1c">siScr</text>
<line x1="486.40" y1="852.40" x2="486.40" y2="859.00" stroke="#141414" stroke-width="2" stroke-linecap="butt"/>
<line x1="482.10" y1="852.40" x2="490.70" y2="852.40" stroke="#141414" stroke-width="2" stroke-linecap="butt"/>
<rect x="478.30" y="859.00" width="16.20" height="85.40" fill="#141414"/>
<text x="490.90" y="958.50" font-size="13.3" text-anchor="end" transform="rotate(-47 490.90 958.50)" fill="#1c1c1c">siPLD1</text>
<line x1="507.80" y1="878.00" x2="507.80" y2="880.50" stroke="#141414" stroke-width="2" stroke-linecap="butt"/>
<line x1="503.50" y1="878.00" x2="512.10" y2="878.00" stroke="#141414" stroke-width="2" stroke-linecap="butt"/>
<rect x="499.70" y="880.50" width="16.20" height="63.90" fill="#141414"/>
<text x="512.30" y="958.50" font-size="13.3" text-anchor="end" transform="rotate(-47 512.30 958.50)" fill="#1c1c1c">siPLD2</text>
<line x1="529.20" y1="876.40" x2="529.20" y2="880.00" stroke="#141414" stroke-width="2" stroke-linecap="butt"/>
<line x1="524.90" y1="876.40" x2="533.50" y2="876.40" stroke="#141414" stroke-width="2" stroke-linecap="butt"/>
<rect x="521.10" y="880.00" width="16.20" height="64.40" fill="#141414"/>
<text x="533.70" y="958.50" font-size="13.3" text-anchor="end" transform="rotate(-47 533.70 958.50)" fill="#1c1c1c">siPLD1 + 2</text>
<line x1="551.20" y1="819.40" x2="551.20" y2="820.00" stroke="#141414" stroke-width="2" stroke-linecap="butt"/>
<line x1="546.90" y1="819.40" x2="555.50" y2="819.40" stroke="#141414" stroke-width="2" stroke-linecap="butt"/>
<rect x="544.10" y="821.00" width="14.20" height="122.40" fill="#fff" stroke="#141414" stroke-width="2"/>
<text x="555.70" y="958.50" font-size="13.3" text-anchor="end" transform="rotate(-47 555.70 958.50)" fill="#1c1c1c">siScr</text>
<line x1="572.60" y1="839.00" x2="572.60" y2="845.60" stroke="#141414" stroke-width="2" stroke-linecap="butt"/>
<line x1="568.30" y1="839.00" x2="576.90" y2="839.00" stroke="#141414" stroke-width="2" stroke-linecap="butt"/>
<rect x="565.50" y="846.60" width="14.20" height="96.80" fill="#fff" stroke="#141414" stroke-width="2"/>
<text x="577.10" y="958.50" font-size="13.3" text-anchor="end" transform="rotate(-47 577.10 958.50)" fill="#1c1c1c">siPLD1</text>
<line x1="594.00" y1="860.80" x2="594.00" y2="866.00" stroke="#141414" stroke-width="2" stroke-linecap="butt"/>
<line x1="589.70" y1="860.80" x2="598.30" y2="860.80" stroke="#141414" stroke-width="2" stroke-linecap="butt"/>
<rect x="586.90" y="867.00" width="14.20" height="76.40" fill="#fff" stroke="#141414" stroke-width="2"/>
<text x="598.50" y="958.50" font-size="13.3" text-anchor="end" transform="rotate(-47 598.50 958.50)" fill="#1c1c1c">siPLD2</text>
<line x1="615.00" y1="850.50" x2="615.00" y2="855.50" stroke="#141414" stroke-width="2" stroke-linecap="butt"/>
<line x1="610.70" y1="850.50" x2="619.30" y2="850.50" stroke="#141414" stroke-width="2" stroke-linecap="butt"/>
<rect x="607.90" y="856.50" width="14.20" height="86.90" fill="#fff" stroke="#141414" stroke-width="2"/>
<text x="619.50" y="958.50" font-size="13.3" text-anchor="end" transform="rotate(-47 619.50 958.50)" fill="#1c1c1c">siPLD1 + 2</text>
<text x="487.00" y="846.00" font-size="13" text-anchor="middle" fill="#1c1c1c">ns</text>
<text x="508.00" y="876.62" font-size="15.2" text-anchor="middle" font-weight="bold" fill="#1c1c1c">***</text>
<text x="529.40" y="873.02" font-size="15.2" text-anchor="middle" font-weight="bold" fill="#1c1c1c">***</text>
<text x="572.60" y="837.62" font-size="15.2" text-anchor="middle" font-weight="bold" fill="#1c1c1c">**</text>
<text x="594.00" y="859.12" font-size="15.2" text-anchor="middle" font-weight="bold" fill="#1c1c1c">***</text>
<text x="614.70" y="849.62" font-size="15.2" text-anchor="middle" font-weight="bold" fill="#1c1c1c">***</text>
<rect x="660.00" y="866.00" width="24.40" height="14.60" fill="#141414"/>
<text x="692.00" y="878.60" font-size="18.5" text-anchor="start" fill="#1c1c1c">normoxia</text>
<rect x="660.60" y="894.20" width="23.20" height="13.60" fill="#fff" stroke="#333" stroke-width="1.2"/>
<text x="692.00" y="906.00" font-size="18.5" text-anchor="start" fill="#1c1c1c">hypoxia</text>
<text x="0.80" y="1044.00" font-size="21.5" text-anchor="start" font-weight="bold" fill="#111">e</text>
<text x="14.00" y="1114.00" font-size="18" text-anchor="start" font-weight="bold" fill="#1c1c1c">CAKI-1</text>
<path d="M93.60,1074.80 L89.80,1074.80 Q87.60,1074.80 87.60,1077.00 L87.60,1137.40 Q87.60,1139.60 89.80,1139.60 L93.60,1139.60" fill="none" stroke="#2c2c2c" stroke-width="1.8" stroke-linecap="round"/>
<line x1="87.60" y1="1107.60" x2="81.10" y2="1107.60" stroke="#2c2c2c" stroke-width="1.8" stroke-linecap="round"/>
<text x="173.20" y="1048.60" font-size="17" text-anchor="middle" fill="#1c1c1c">normoxia</text>
<text x="301.70" y="1048.60" font-size="17" text-anchor="middle" fill="#1c1c1c">hypoxia</text>
<line x1="126.40" y1="1057.60" x2="219.60" y2="1057.60" stroke="#444" stroke-width="1.6" stroke-linecap="butt"/>
<line x1="255.40" y1="1057.60" x2="348.00" y2="1057.60" stroke="#444" stroke-width="1.6" stroke-linecap="butt"/>
<clipPath id="cp7"><rect x="110.40" y="1065.40" width="248.00" height="27.20"/></clipPath>
<rect x="110.40" y="1065.40" width="248.00" height="27.20" fill="#c7c7c7"/>
<g clip-path="url(#cp7)">
<rect x="237.80" y="1075.40" width="22.20" height="5.20" rx="2.60" ry="2.60" fill="#202020" opacity="0.98" filter="url(#b1_3)"/>
<rect x="269.50" y="1076.80" width="23.10" height="3.60" rx="1.80" ry="1.80" fill="#505050" opacity="0.85" filter="url(#b1_3)"/>
<rect x="301.50" y="1076.30" width="23.30" height="4.60" rx="2.30" ry="2.30" fill="#303030" opacity="0.95" filter="url(#b1_3)"/>
<rect x="333.50" y="1077.90" width="21.00" height="3.00" rx="1.50" ry="1.50" fill="#686868" opacity="0.75" filter="url(#b1_3)"/>
</g>
<rect x="110.40" y="1065.40" width="248.00" height="27.20" fill="none" stroke="#3a3a3a" stroke-width="1.3"/>
<text x="250.60" y="1111.00" font-size="16" text-anchor="middle" fill="#1c1c1c">1</text>
<text x="284.00" y="1111.00" font-size="16" text-anchor="middle" fill="#1c1c1c">0.5</text>
<text x="314.40" y="1111.00" font-size="16" text-anchor="middle" fill="#1c1c1c">0.7</text>
<text x="345.20" y="1111.00" font-size="16" text-anchor="middle" fill="#1c1c1c">0.4</text>
<clipPath id="cp8"><rect x="110.40" y="1118.40" width="248.00" height="27.20"/></clipPath>
<rect x="110.40" y="1118.40" width="248.00" height="27.20" fill="#b6b6b6"/>
<g clip-path="url(#cp8)">
<polygon points="106.0,1130.0 107.3,1126.9 108.5,1126.0 109.8,1125.5 111.0,1125.3 112.3,1125.1 113.5,1125.1 114.8,1125.1 116.1,1125.1 117.3,1125.1 118.6,1125.1 119.8,1125.1 121.1,1125.1 122.4,1125.1 123.6,1125.1 124.9,1125.1 126.1,1125.1 127.4,1125.1 128.6,1125.1 129.9,1125.1 131.2,1125.3 132.4,1125.5 133.7,1126.0 134.9,1126.9 136.2,1130.0 136.2,1130.0 134.9,1133.2 133.7,1134.2 132.4,1134.8 131.2,1135.1 129.9,1135.3 128.6,1135.4 127.4,1135.5 126.1,1135.5 124.9,1135.6 123.6,1135.6 122.4,1135.6 121.1,1135.6 119.8,1135.6 118.6,1135.6 117.3,1135.6 116.1,1135.5 114.8,1135.5 113.5,1135.4 112.3,1135.3 111.0,1135.1 109.8,1134.8 108.5,1134.2 107.3,1133.2 106.0,1130.0" fill="#121212" opacity="1" filter="url(#b1)"/>
<polygon points="140.6,1133.0 141.8,1129.4 143.0,1128.3 144.2,1127.7 145.3,1127.3 146.5,1127.1 147.7,1127.0 148.9,1126.9 150.1,1126.9 151.2,1126.9 152.4,1126.9 153.6,1126.9 154.8,1126.9 156.0,1126.9 157.2,1126.9 158.3,1126.9 159.5,1126.9 160.7,1126.9 161.9,1127.0 163.1,1127.1 164.3,1127.3 165.4,1127.7 166.6,1128.3 167.8,1129.4 169.0,1133.0 169.0,1133.0 167.8,1136.6 166.6,1137.7 165.4,1138.3 164.3,1138.7 163.1,1138.9 161.9,1139.0 160.7,1139.1 159.5,1139.1 158.3,1139.1 157.2,1139.1 156.0,1139.1 154.8,1139.1 153.6,1139.1 152.4,1139.1 151.2,1139.1 150.1,1139.1 148.9,1139.1 147.7,1139.0 146.5,1138.9 145.3,1138.7 144.2,1138.3 143.0,1137.7 141.8,1136.6 140.6,1133.0" fill="#121212" opacity="1" filter="url(#b1)"/>
<polygon points="172.7,1133.7 173.9,1130.5 175.0,1129.5 176.2,1129.0 177.4,1128.7 178.5,1128.5 179.7,1128.4 180.9,1128.3 182.0,1128.3 183.2,1128.3 184.4,1128.3 185.5,1128.3 186.7,1128.3 187.9,1128.3 189.0,1128.3 190.2,1128.3 191.4,1128.3 192.5,1128.3 193.7,1128.4 194.9,1128.5 196.0,1128.7 197.2,1129.0 198.4,1129.5 199.5,1130.5 200.7,1133.7 200.7,1133.7 199.5,1136.9 198.4,1137.9 197.2,1138.4 196.0,1138.7 194.9,1138.9 193.7,1139.0 192.5,1139.1 191.4,1139.1 190.2,1139.1 189.0,1139.1 187.9,1139.1 186.7,1139.1 185.5,1139.1 184.4,1139.1 183.2,1139.1 182.0,1139.1 180.9,1139.1 179.7,1139.0 178.5,1138.9 177.4,1138.7 176.2,1138.4 175.0,1137.9 173.9,1136.9 172.7,1133.7" fill="#121212" opacity="1" filter="url(#b1)"/>
<polygon points="204.3,1132.8 205.5,1129.8 206.6,1128.9 207.8,1128.4 209.0,1128.1 210.1,1128.0 211.3,1127.9 212.5,1127.8 213.6,1127.8 214.8,1127.8 216.0,1127.8 217.1,1127.8 218.3,1127.8 219.5,1127.8 220.6,1127.8 221.8,1127.8 223.0,1127.8 224.1,1127.8 225.3,1127.9 226.5,1128.0 227.6,1128.1 228.8,1128.4 230.0,1128.9 231.1,1129.8 232.3,1132.8 232.3,1132.8 231.1,1135.8 230.0,1136.7 228.8,1137.2 227.6,1137.5 226.5,1137.6 225.3,1137.7 224.1,1137.8 223.0,1137.8 221.8,1137.8 220.6,1137.8 219.5,1137.8 218.3,1137.8 217.1,1137.8 216.0,1137.8 214.8,1137.8 213.6,1137.8 212.5,1137.8 211.3,1137.7 210.1,1137.6 209.0,1137.5 207.8,1137.2 206.6,1136.7 205.5,1135.8 204.3,1132.8" fill="#121212" opacity="1" filter="url(#b1)"/>
<polygon points="236.0,1134.0 237.1,1130.9 238.3,1130.0 239.4,1129.5 240.6,1129.2 241.7,1129.0 242.9,1128.9 244.0,1128.8 245.2,1128.8 246.3,1128.8 247.5,1128.8 248.6,1128.8 249.8,1128.8 250.9,1128.8 252.0,1128.8 253.2,1128.8 254.3,1128.8 255.5,1128.8 256.6,1128.9 257.8,1129.0 258.9,1129.2 260.1,1129.5 261.2,1130.0 262.4,1130.9 263.5,1134.0 263.5,1134.0 262.4,1137.1 261.2,1138.0 260.1,1138.5 258.9,1138.8 257.8,1139.0 256.6,1139.1 255.5,1139.2 254.3,1139.2 253.2,1139.2 252.0,1139.2 250.9,1139.2 249.8,1139.2 248.6,1139.2 247.5,1139.2 246.3,1139.2 245.2,1139.2 244.0,1139.2 242.9,1139.1 241.7,1139.0 240.6,1138.8 239.4,1138.5 238.3,1138.0 237.1,1137.1 236.0,1134.0" fill="#121212" opacity="1" filter="url(#b1)"/>
<polygon points="267.2,1133.2 268.3,1129.9 269.5,1128.9 270.6,1128.4 271.8,1128.1 272.9,1127.9 274.1,1127.8 275.2,1127.7 276.4,1127.7 277.6,1127.7 278.7,1127.7 279.9,1127.7 281.0,1127.7 282.1,1127.7 283.3,1127.7 284.4,1127.7 285.6,1127.7 286.8,1127.7 287.9,1127.8 289.1,1127.9 290.2,1128.1 291.4,1128.4 292.5,1128.9 293.7,1129.9 294.8,1133.2 294.8,1133.2 293.7,1136.5 292.5,1137.5 291.4,1138.0 290.2,1138.3 289.1,1138.5 287.9,1138.6 286.8,1138.7 285.6,1138.7 284.4,1138.7 283.3,1138.7 282.1,1138.7 281.0,1138.7 279.9,1138.7 278.7,1138.7 277.6,1138.7 276.4,1138.7 275.2,1138.7 274.1,1138.6 272.9,1138.5 271.8,1138.3 270.6,1138.0 269.5,1137.5 268.3,1136.5 267.2,1133.2" fill="#121212" opacity="1" filter="url(#b1)"/>
<polygon points="299.4,1131.7 300.5,1128.8 301.6,1128.0 302.7,1127.5 303.8,1127.2 304.9,1127.1 306.0,1127.0 307.1,1126.9 308.2,1126.9 309.3,1126.9 310.4,1126.9 311.5,1126.9 312.5,1126.9 313.6,1126.9 314.7,1126.9 315.8,1126.9 316.9,1126.9 318.0,1126.9 319.1,1127.0 320.2,1127.1 321.3,1127.2 322.4,1127.5 323.5,1128.0 324.6,1128.8 325.7,1131.7 325.7,1131.7 324.6,1134.6 323.5,1135.4 322.4,1135.9 321.3,1136.2 320.2,1136.3 319.1,1136.4 318.0,1136.5 316.9,1136.5 315.8,1136.5 314.7,1136.5 313.6,1136.5 312.5,1136.5 311.5,1136.5 310.4,1136.5 309.3,1136.5 308.2,1136.5 307.1,1136.5 306.0,1136.4 304.9,1136.3 303.8,1136.2 302.7,1135.9 301.6,1135.4 300.5,1134.6 299.4,1131.7" fill="#121212" opacity="1" filter="url(#b1)"/>
<polygon points="329.3,1130.0 330.4,1126.7 331.6,1125.7 332.7,1125.1 333.8,1124.7 335.0,1124.5 336.1,1124.4 337.2,1124.3 338.4,1124.3 339.5,1124.2 340.6,1124.2 341.8,1124.2 342.9,1124.2 344.0,1124.2 345.2,1124.2 346.3,1124.2 347.4,1124.3 348.6,1124.3 349.7,1124.4 350.8,1124.5 352.0,1124.7 353.1,1125.1 354.2,1125.7 355.4,1126.7 356.5,1130.0 356.5,1130.0 355.4,1133.2 354.2,1134.1 353.1,1134.6 352.0,1134.9 350.8,1135.0 349.7,1135.1 348.6,1135.1 347.4,1135.1 346.3,1135.1 345.2,1135.1 344.0,1135.1 342.9,1135.1 341.8,1135.1 340.6,1135.1 339.5,1135.1 338.4,1135.1 337.2,1135.1 336.1,1135.1 335.0,1135.0 333.8,1134.9 332.7,1134.6 331.6,1134.1 330.4,1133.2 329.3,1130.0" fill="#121212" opacity="1" filter="url(#b1)"/>
</g>
<rect x="110.40" y="1118.40" width="248.00" height="27.20" fill="none" stroke="#3a3a3a" stroke-width="1.3"/>
<text x="385.00" y="1085.00" font-size="18" text-anchor="start" fill="#1c1c1c">HIF-2α</text>
<text x="385.40" y="1135.60" font-size="18" text-anchor="start" fill="#1c1c1c">Tubulin</text>
<text x="96.40" y="1165.60" font-size="16" text-anchor="end" fill="#1c1c1c">siPLD1</text>
<text x="96.40" y="1187.60" font-size="16" text-anchor="end" fill="#1c1c1c">siPLD2</text>
<text x="96.40" y="1210.60" font-size="16" text-anchor="end" fill="#1c1c1c">siScr</text>
<text x="125.20" y="1168.00" font-size="13" text-anchor="middle" font-weight="bold" fill="#1c1c1c">-</text>
<text x="154.80" y="1167.50" font-size="13" text-anchor="middle" font-weight="bold" fill="#1c1c1c">+</text>
<text x="187.40" y="1168.00" font-size="13" text-anchor="middle" font-weight="bold" fill="#1c1c1c">-</text>
<text x="219.70" y="1167.50" font-size="13" text-anchor="middle" font-weight="bold" fill="#1c1c1c">+</text>
<text x="248.80" y="1168.00" font-size="13" text-anchor="middle" font-weight="bold" fill="#1c1c1c">-</text>
<text x="278.90" y="1167.50" font-size="13" text-anchor="middle" font-weight="bold" fill="#1c1c1c">+</text>
<text x="312.70" y="1168.00" font-size="13" text-anchor="middle" font-weight="bold" fill="#1c1c1c">-</text>
<text x="345.30" y="1167.50" font-size="13" text-anchor="middle" font-weight="bold" fill="#1c1c1c">+</text>
<text x="125.20" y="1187.60" font-size="13" text-anchor="middle" font-weight="bold" fill="#1c1c1c">-</text>
<text x="154.80" y="1187.60" font-size="13" text-anchor="middle" font-weight="bold" fill="#1c1c1c">-</text>
<text x="187.40" y="1187.10" font-size="13" text-anchor="middle" font-weight="bold" fill="#1c1c1c">+</text>
<text x="219.70" y="1187.10" font-size="13" text-anchor="middle" font-weight="bold" fill="#1c1c1c">+</text>
<text x="248.80" y="1187.60" font-size="13" text-anchor="middle" font-weight="bold" fill="#1c1c1c">-</text>
<text x="278.90" y="1187.60" font-size="13" text-anchor="middle" font-weight="bold" fill="#1c1c1c">-</text>
<text x="312.70" y="1187.10" font-size="13" text-anchor="middle" font-weight="bold" fill="#1c1c1c">+</text>
<text x="345.30" y="1187.10" font-size="13" text-anchor="middle" font-weight="bold" fill="#1c1c1c">+</text>
<text x="125.20" y="1210.10" font-size="13" text-anchor="middle" font-weight="bold" fill="#1c1c1c">+</text>
<text x="154.80" y="1210.60" font-size="13" text-anchor="middle" font-weight="bold" fill="#1c1c1c">-</text>
<text x="187.40" y="1210.60" font-size="13" text-anchor="middle" font-weight="bold" fill="#1c1c1c">-</text>
<text x="219.70" y="1210.60" font-size="13" text-anchor="middle" font-weight="bold" fill="#1c1c1c">-</text>
<text x="248.80" y="1210.10" font-size="13" text-anchor="middle" font-weight="bold" fill="#1c1c1c">+</text>
<text x="278.90" y="1210.60" font-size="13" text-anchor="middle" font-weight="bold" fill="#1c1c1c">-</text>
<text x="312.70" y="1210.60" font-size="13" text-anchor="middle" font-weight="bold" fill="#1c1c1c">-</text>
<text x="345.30" y="1210.60" font-size="13" text-anchor="middle" font-weight="bold" fill="#1c1c1c">-</text>
<text x="530.50" y="1048.60" font-size="17" text-anchor="middle" fill="#1c1c1c">normoxia</text>
<text x="659.20" y="1048.60" font-size="17" text-anchor="middle" fill="#1c1c1c">hypoxia</text>
<line x1="484.00" y1="1057.80" x2="577.00" y2="1057.80" stroke="#444" stroke-width="1.6" stroke-linecap="butt"/>
<line x1="612.50" y1="1057.80" x2="705.80" y2="1057.80" stroke="#444" stroke-width="1.6" stroke-linecap="butt"/>
<clipPath id="cp9"><rect x="469.10" y="1065.40" width="249.70" height="27.20"/></clipPath>
<rect x="469.10" y="1065.40" width="249.70" height="27.20" fill="#d0d0d0"/>
<g clip-path="url(#cp9)">
<rect x="472.00" y="1078.10" width="22.20" height="2.60" rx="1.30" ry="1.30" fill="#3c3c3c" opacity="0.9" filter="url(#b0_9)"/>
<rect x="501.60" y="1078.00" width="24.70" height="3.40" rx="1.70" ry="1.70" fill="#2c2c2c" opacity="0.95" filter="url(#b0_9)"/>
<rect x="532.00" y="1077.90" width="26.40" height="2.00" rx="1.00" ry="1.00" fill="#8a8a8a" opacity="0.6" filter="url(#b0_9)"/>
<rect x="565.80" y="1077.40" width="23.00" height="2.20" rx="1.10" ry="1.10" fill="#6a6a6a" opacity="0.75" filter="url(#b0_9)"/>
<rect x="597.00" y="1075.90" width="24.70" height="3.80" rx="1.90" ry="1.90" fill="#1c1c1c" opacity="0.98" filter="url(#b0_9)"/>
<rect x="628.60" y="1076.20" width="24.40" height="3.20" rx="1.60" ry="1.60" fill="#2a2a2a" opacity="0.95" filter="url(#b0_9)"/>
<rect x="660.40" y="1077.20" width="24.60" height="1.80" rx="0.90" ry="0.90" fill="#8c8c8c" opacity="0.55" filter="url(#b0_9)"/>
<rect x="693.20" y="1078.50" width="23.10" height="1.80" rx="0.90" ry="0.90" fill="#999" opacity="0.5" filter="url(#b0_9)"/>
</g>
<rect x="469.10" y="1065.40" width="249.70" height="27.20" fill="none" stroke="#3a3a3a" stroke-width="1.3"/>
<text x="484.00" y="1111.00" font-size="16" text-anchor="middle" fill="#1c1c1c">1</text>
<text x="512.70" y="1111.00" font-size="16" text-anchor="middle" fill="#1c1c1c">0.9</text>
<text x="545.60" y="1111.00" font-size="16" text-anchor="middle" fill="#1c1c1c">0.3</text>
<text x="576.60" y="1111.00" font-size="16" text-anchor="middle" fill="#1c1c1c">0.4</text>
<text x="610.00" y="1111.00" font-size="16" text-anchor="middle" fill="#1c1c1c">1</text>
<text x="641.30" y="1111.00" font-size="16" text-anchor="middle" fill="#1c1c1c">0.8</text>
<text x="673.90" y="1111.00" font-size="16" text-anchor="middle" fill="#1c1c1c">0.2</text>
<text x="704.70" y="1111.00" font-size="16" text-anchor="middle" fill="#1c1c1c">0.2</text>
<clipPath id="cp10"><rect x="469.10" y="1118.40" width="249.70" height="27.20"/></clipPath>
<rect x="469.10" y="1118.40" width="249.70" height="27.20" fill="#bebebe"/>
<g clip-path="url(#cp10)">
<polygon points="470.6,1130.8 471.7,1127.8 472.8,1127.1 473.9,1126.7 475.0,1126.5 476.1,1126.5 477.2,1126.5 478.2,1126.5 479.3,1126.6 480.4,1126.6 481.5,1126.7 482.6,1126.7 483.7,1126.7 484.8,1126.7 485.9,1126.7 487.0,1126.6 488.1,1126.6 489.2,1126.5 490.2,1126.5 491.3,1126.5 492.4,1126.5 493.5,1126.7 494.6,1127.1 495.7,1127.8 496.8,1130.8 496.8,1130.8 495.7,1134.1 494.6,1135.2 493.5,1135.8 492.4,1136.2 491.3,1136.5 490.2,1136.6 489.2,1136.8 488.1,1136.8 487.0,1136.9 485.9,1136.9 484.8,1136.9 483.7,1136.9 482.6,1136.9 481.5,1136.9 480.4,1136.9 479.3,1136.8 478.2,1136.8 477.2,1136.6 476.1,1136.5 475.0,1136.2 473.9,1135.8 472.8,1135.2 471.7,1134.1 470.6,1130.8" fill="#141414" opacity="1" filter="url(#b1_1)"/>
<polygon points="500.0,1131.4 501.2,1128.1 502.4,1127.2 503.6,1126.8 504.8,1126.6 506.0,1126.5 507.2,1126.5 508.4,1126.6 509.6,1126.7 510.8,1126.7 512.0,1126.8 513.2,1126.8 514.4,1126.8 515.6,1126.8 516.8,1126.8 518.0,1126.7 519.2,1126.7 520.4,1126.6 521.6,1126.5 522.8,1126.5 524.0,1126.6 525.2,1126.8 526.4,1127.2 527.6,1128.1 528.8,1131.4 528.8,1131.4 527.6,1135.1 526.4,1136.3 525.2,1137.1 524.0,1137.5 522.8,1137.8 521.6,1138.0 520.4,1138.2 519.2,1138.3 518.0,1138.3 516.8,1138.4 515.6,1138.4 514.4,1138.4 513.2,1138.4 512.0,1138.4 510.8,1138.3 509.6,1138.3 508.4,1138.2 507.2,1138.0 506.0,1137.8 504.8,1137.5 503.6,1137.1 502.4,1136.3 501.2,1135.1 500.0,1131.4" fill="#141414" opacity="1" filter="url(#b1_1)"/>
<polygon points="531.2,1132.4 532.5,1129.0 533.8,1128.1 535.1,1127.7 536.4,1127.5 537.7,1127.5 539.0,1127.5 540.3,1127.6 541.6,1127.6 542.9,1127.7 544.2,1127.8 545.5,1127.8 546.8,1127.8 548.1,1127.8 549.4,1127.8 550.7,1127.7 552.0,1127.6 553.3,1127.6 554.6,1127.5 555.9,1127.5 557.2,1127.5 558.5,1127.7 559.8,1128.1 561.1,1129.0 562.4,1132.4 562.4,1132.4 561.1,1136.3 559.8,1137.5 558.5,1138.3 557.2,1138.8 555.9,1139.1 554.6,1139.3 553.3,1139.5 552.0,1139.6 550.7,1139.6 549.4,1139.7 548.1,1139.7 546.8,1139.7 545.5,1139.7 544.2,1139.7 542.9,1139.6 541.6,1139.6 540.3,1139.5 539.0,1139.3 537.7,1139.1 536.4,1138.8 535.1,1138.3 533.8,1137.5 532.5,1136.3 531.2,1132.4" fill="#141414" opacity="1" filter="url(#b1_1)"/>
<polygon points="563.8,1131.4 565.0,1128.1 566.3,1127.3 567.5,1126.9 568.8,1126.7 570.0,1126.6 571.3,1126.6 572.5,1126.7 573.8,1126.8 575.0,1126.8 576.3,1126.9 577.5,1126.9 578.8,1126.9 580.0,1126.9 581.3,1126.9 582.5,1126.8 583.8,1126.8 585.0,1126.7 586.3,1126.6 587.5,1126.6 588.8,1126.7 590.0,1126.9 591.3,1127.3 592.5,1128.1 593.8,1131.4 593.8,1131.4 592.5,1135.1 591.3,1136.3 590.0,1137.0 588.8,1137.4 587.5,1137.7 586.3,1137.9 585.0,1138.1 583.8,1138.2 582.5,1138.2 581.3,1138.3 580.0,1138.3 578.8,1138.3 577.5,1138.3 576.3,1138.3 575.0,1138.2 573.8,1138.2 572.5,1138.1 571.3,1137.9 570.0,1137.7 568.8,1137.4 567.5,1137.0 566.3,1136.3 565.0,1135.1 563.8,1131.4" fill="#141414" opacity="1" filter="url(#b1_1)"/>
<polygon points="596.2,1131.4 597.4,1128.5 598.5,1127.7 599.7,1127.4 600.9,1127.2 602.0,1127.2 603.2,1127.2 604.4,1127.3 605.5,1127.4 606.7,1127.4 607.9,1127.5 609.0,1127.5 610.2,1127.5 611.4,1127.5 612.5,1127.5 613.7,1127.4 614.9,1127.4 616.0,1127.3 617.2,1127.2 618.4,1127.2 619.5,1127.2 620.7,1127.4 621.9,1127.7 623.0,1128.5 624.2,1131.4 624.2,1131.4 623.0,1134.7 621.9,1135.8 620.7,1136.5 619.5,1136.9 618.4,1137.2 617.2,1137.4 616.0,1137.5 614.9,1137.6 613.7,1137.6 612.5,1137.7 611.4,1137.7 610.2,1137.7 609.0,1137.7 607.9,1137.7 606.7,1137.6 605.5,1137.6 604.4,1137.5 603.2,1137.4 602.0,1137.2 600.9,1136.9 599.7,1136.5 598.5,1135.8 597.4,1134.7 596.2,1131.4" fill="#141414" opacity="1" filter="url(#b1_1)"/>
<polygon points="627.1,1130.8 628.3,1127.9 629.5,1127.1 630.7,1126.8 631.9,1126.6 633.1,1126.6 634.3,1126.6 635.5,1126.7 636.7,1126.8 637.9,1126.8 639.1,1126.9 640.3,1126.9 641.5,1126.9 642.7,1126.9 643.9,1126.9 645.1,1126.8 646.3,1126.8 647.5,1126.7 648.7,1126.6 649.9,1126.6 651.1,1126.6 652.3,1126.8 653.5,1127.1 654.7,1127.9 655.9,1130.8 655.9,1130.8 654.7,1134.1 653.5,1135.2 652.3,1135.9 651.1,1136.3 649.9,1136.6 648.7,1136.8 647.5,1136.9 646.3,1137.0 645.1,1137.0 643.9,1137.1 642.7,1137.1 641.5,1137.1 640.3,1137.1 639.1,1137.1 637.9,1137.0 636.7,1137.0 635.5,1136.9 634.3,1136.8 633.1,1136.6 631.9,1136.3 630.7,1135.9 629.5,1135.2 628.3,1134.1 627.1,1130.8" fill="#141414" opacity="1" filter="url(#b1_1)"/>
<polygon points="658.7,1131.6 659.9,1128.6 661.0,1127.9 662.2,1127.5 663.4,1127.3 664.5,1127.3 665.7,1127.3 666.9,1127.4 668.0,1127.5 669.2,1127.5 670.4,1127.6 671.5,1127.6 672.7,1127.6 673.9,1127.6 675.0,1127.6 676.2,1127.5 677.4,1127.5 678.5,1127.4 679.7,1127.3 680.9,1127.3 682.0,1127.3 683.2,1127.5 684.4,1127.9 685.5,1128.6 686.7,1131.6 686.7,1131.6 685.5,1135.0 684.4,1136.1 683.2,1136.7 682.0,1137.2 680.9,1137.5 679.7,1137.6 678.5,1137.8 677.4,1137.9 676.2,1137.9 675.0,1138.0 673.9,1138.0 672.7,1138.0 671.5,1138.0 670.4,1138.0 669.2,1137.9 668.0,1137.9 666.9,1137.8 665.7,1137.6 664.5,1137.5 663.4,1137.2 662.2,1136.7 661.0,1136.1 659.9,1135.0 658.7,1131.6" fill="#141414" opacity="1" filter="url(#b1_1)"/>
<polygon points="690.0,1132.8 691.2,1130.0 692.3,1129.3 693.5,1129.0 694.7,1128.8 695.8,1128.8 697.0,1128.8 698.2,1128.9 699.3,1129.0 700.5,1129.0 701.7,1129.1 702.8,1129.1 704.0,1129.1 705.2,1129.1 706.3,1129.1 707.5,1129.0 708.7,1129.0 709.8,1128.9 711.0,1128.8 712.2,1128.8 713.3,1128.8 714.5,1129.0 715.7,1129.3 716.8,1130.0 718.0,1132.8 718.0,1132.8 716.8,1136.0 715.7,1137.0 714.5,1137.7 713.3,1138.1 712.2,1138.4 711.0,1138.6 709.8,1138.7 708.7,1138.8 707.5,1138.8 706.3,1138.9 705.2,1138.9 704.0,1138.9 702.8,1138.9 701.7,1138.9 700.5,1138.8 699.3,1138.8 698.2,1138.7 697.0,1138.6 695.8,1138.4 694.7,1138.1 693.5,1137.7 692.3,1137.0 691.2,1136.0 690.0,1132.8" fill="#141414" opacity="1" filter="url(#b1_1)"/>
</g>
<rect x="469.10" y="1118.40" width="249.70" height="27.20" fill="none" stroke="#3a3a3a" stroke-width="1.3"/>
<line x1="594.60" y1="1065.40" x2="594.60" y2="1145.60" stroke="#333" stroke-width="1" stroke-linecap="butt" stroke-dasharray="1.2 1.2"/>
<path d="M725.10,1075.20 L728.90,1075.20 Q731.10,1075.20 731.10,1077.40 L731.10,1137.60 Q731.10,1139.80 728.90,1139.80 L725.10,1139.80" fill="none" stroke="#2c2c2c" stroke-width="1.8" stroke-linecap="round"/>
<line x1="731.10" y1="1108.00" x2="737.60" y2="1108.00" stroke="#2c2c2c" stroke-width="1.8" stroke-linecap="round"/>
<text x="745.30" y="1113.20" font-size="18.7" text-anchor="start" font-weight="bold" fill="#1c1c1c">A498</text>
<text x="486.70" y="1168.00" font-size="13" text-anchor="middle" font-weight="bold" fill="#1c1c1c">-</text>
<text x="516.70" y="1167.50" font-size="13" text-anchor="middle" font-weight="bold" fill="#1c1c1c">+</text>
<text x="548.90" y="1168.00" font-size="13" text-anchor="middle" font-weight="bold" fill="#1c1c1c">-</text>
<text x="580.30" y="1167.50" font-size="13" text-anchor="middle" font-weight="bold" fill="#1c1c1c">+</text>
<text x="610.40" y="1168.00" font-size="13" text-anchor="middle" font-weight="bold" fill="#1c1c1c">-</text>
<text x="640.50" y="1167.50" font-size="13" text-anchor="middle" font-weight="bold" fill="#1c1c1c">+</text>
<text x="674.30" y="1168.00" font-size="13" text-anchor="middle" font-weight="bold" fill="#1c1c1c">-</text>
<text x="706.00" y="1167.50" font-size="13" text-anchor="middle" font-weight="bold" fill="#1c1c1c">+</text>
<text x="486.70" y="1187.60" font-size="13" text-anchor="middle" font-weight="bold" fill="#1c1c1c">-</text>
<text x="516.70" y="1187.60" font-size="13" text-anchor="middle" font-weight="bold" fill="#1c1c1c">-</text>
<text x="548.90" y="1187.10" font-size="13" text-anchor="middle" font-weight="bold" fill="#1c1c1c">+</text>
<text x="580.30" y="1187.10" font-size="13" text-anchor="middle" font-weight="bold" fill="#1c1c1c">+</text>
<text x="610.40" y="1187.60" font-size="13" text-anchor="middle" font-weight="bold" fill="#1c1c1c">-</text>
<text x="640.50" y="1187.60" font-size="13" text-anchor="middle" font-weight="bold" fill="#1c1c1c">-</text>
<text x="674.30" y="1187.10" font-size="13" text-anchor="middle" font-weight="bold" fill="#1c1c1c">+</text>
<text x="706.00" y="1187.10" font-size="13" text-anchor="middle" font-weight="bold" fill="#1c1c1c">+</text>
<text x="486.70" y="1210.10" font-size="13" text-anchor="middle" font-weight="bold" fill="#1c1c1c">+</text>
<text x="516.70" y="1210.60" font-size="13" text-anchor="middle" font-weight="bold" fill="#1c1c1c">-</text>
<text x="548.90" y="1210.60" font-size="13" text-anchor="middle" font-weight="bold" fill="#1c1c1c">-</text>
<text x="580.30" y="1210.60" font-size="13" text-anchor="middle" font-weight="bold" fill="#1c1c1c">-</text>
<text x="610.40" y="1210.10" font-size="13" text-anchor="middle" font-weight="bold" fill="#1c1c1c">+</text>
<text x="640.50" y="1210.60" font-size="13" text-anchor="middle" font-weight="bold" fill="#1c1c1c">-</text>
<text x="674.30" y="1210.60" font-size="13" text-anchor="middle" font-weight="bold" fill="#1c1c1c">-</text>
<text x="706.00" y="1210.60" font-size="13" text-anchor="middle" font-weight="bold" fill="#1c1c1c">-</text>
</svg>
</body></html>
